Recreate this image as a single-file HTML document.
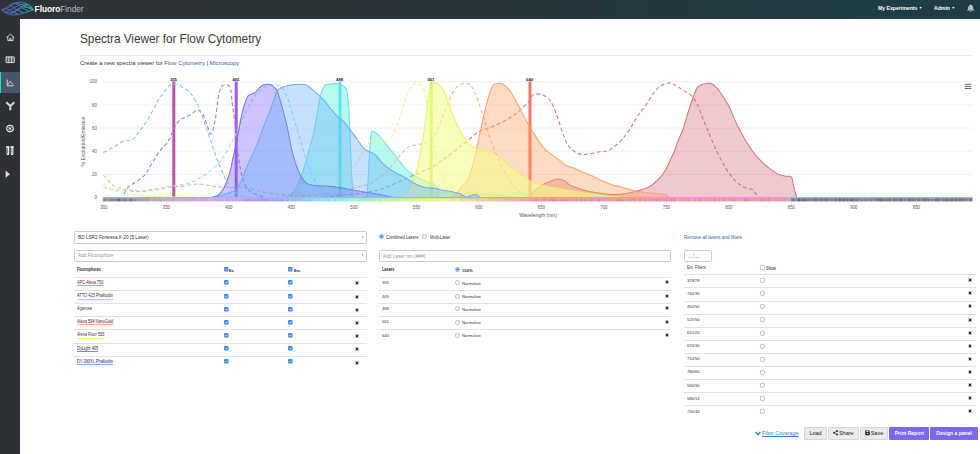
<!DOCTYPE html>
<html><head><meta charset="utf-8"><title>Spectra Viewer</title>
<style>
*{box-sizing:border-box;margin:0;padding:0}
html,body{width:980px;height:454px;overflow:hidden;background:#fff;font-family:"Liberation Sans",sans-serif;color:#333}
.abs{position:absolute}
svg{overflow:visible}
#hdr{position:absolute;left:0;top:0;width:980px;height:18.6px;background:linear-gradient(90deg,#2e3236 0%,#2c3438 35%,#23393f 70%,#1f3d46 100%)}
#side{position:absolute;left:0;top:18.6px;width:19.6px;height:436px;background:#2d3136}
#act{position:absolute;left:0;top:72px;width:19.6px;height:21px;background:#4a566b;border-left:1.8px solid #0fe6c6}
.t{position:absolute;white-space:nowrap;line-height:1}
.nav{color:#fff;font-size:5.2px;font-weight:bold;top:5.6px}
h1{position:absolute;left:79.6px;top:31.6px;font-size:13.1px;font-weight:normal;color:#3a3a3a;white-space:nowrap;line-height:1;letter-spacing:-0.05px}
#hr1{position:absolute;left:80px;top:55px;width:893px;height:0.7px;background:#ececec}
.sub{left:80px;top:61.1px;font-size:5.6px;letter-spacing:0.01px;color:#333}
.lnk{color:#2c5fa5}
.tx{font-size:4.5px;color:#333}
.hd{font-size:4.4px;color:#222;font-weight:bold}
.ln{position:absolute;height:0.6px;background:#e2e2e2}
.box{position:absolute;border:0.6px solid #cdcdcd;border-radius:1.2px;background:#fff}
.cb{position:absolute;width:4.4px;height:4.4px;border-radius:0.8px;background:#2f7df0}
.cb:after{content:"";position:absolute;left:1.45px;top:0.55px;width:1.2px;height:2.3px;border:solid #fff;border-width:0 0.7px 0.7px 0;transform:rotate(42deg)}
.ce{position:absolute;width:4.3px;height:4.3px;border-radius:0.7px;border:0.6px solid #777;background:#fff}
.rd{position:absolute;width:4.6px;height:4.6px;border-radius:50%;border:0.6px solid #777;background:#fff}
.rdc{position:absolute;width:4.6px;height:4.6px;border-radius:50%;border:0.7px solid #2f7df0;background:#fff}
.rdc:after{content:"";position:absolute;left:0.75px;top:0.75px;width:1.7px;height:1.7px;border-radius:50%;background:#2f7df0}
.x{position:absolute;font-size:5.2px;font-weight:bold;color:#222;line-height:1}
.btn{position:absolute;top:426.8px;height:13.4px;border-radius:1px;font-size:5.5px;line-height:11.8px;text-align:center;white-space:nowrap}
.bg{background:#ebebeb;border:0.6px solid #d6d6d6;color:#222}
.bp{background:#7b68ee;color:#fff;font-weight:bold;font-size:5.05px;line-height:12.6px}
.u{text-decoration:none;border-bottom:0.5px solid;display:inline-block;line-height:0.98}
</style></head><body>
<div id="hdr"></div>
<div id="side"></div>
<div id="act"></div>

<!-- logo -->
<svg class="abs" style="left:0;top:0" width="100" height="19" viewBox="0 0 100 19">
<defs><linearGradient id="lg" x1="0" x2="1" y1="0" y2="0"><stop offset="0" stop-color="#7460e6"/><stop offset="0.5" stop-color="#3f90d4"/><stop offset="0.8" stop-color="#25b8c8"/><stop offset="1" stop-color="#10dcc0"/></linearGradient></defs>
<g fill="none" stroke="url(#lg)" stroke-width="0.8" stroke-linecap="round" opacity="0.95">
<path d="M1.8 10C6 9.2 9 3.6 15 3.1S25 7.6 33 9.8"/>
<path d="M1.8 10C8 10.2 13 2 20 2S29 6 33 9.8"/>
<path d="M4.5 12C10 11.5 17 4.2 24 4.200S31.5 7 33 9.8"/>
<path d="M1.8 10C4 12.5 7 13.200 10.5 12.600S22 5 27 5.200"/>
<path d="M5.500 12.700C9 15 13 15.300 16.500 14.800S27 12.500 33 9.800"/>
<path d="M10.800 13.800C14 13.500 20 7.500 25.500 7.300S31 8.500 33 9.800"/>
<path d="M7.500 8.800C10 10.500 13.500 12.500 17 13.800"/>
<path d="M11 6C14 8 18.500 11 23 12.700"/>
<path d="M16 3.500C19 5.500 24 9 28.500 11.300"/>
</g>
<text x="34.600" y="12.100" font-family="Liberation Sans" font-size="8.35" font-weight="bold" fill="#ffffff" letter-spacing="-0.05">Fluoro<tspan font-weight="normal" fill="#b9bcbf">Finder</tspan></text>
</svg>

<div class="t nav" style="transform-origin:0 50%;transform:scaleX(0.989);left:877.8px">My Experiments <span style="font-size:3.6px;position:relative;top:-0.6px">&#9660;</span></div>
<div class="t nav" style="transform-origin:0 50%;transform:scaleX(0.988);left:933.8px">Admin <span style="font-size:3.6px;position:relative;top:-0.6px">&#9660;</span></div>
<svg class="abs" style="left:966.6px;top:3.8px" width="7.400" height="8" viewBox="0 0 14 15"><path d="M7 0.500c.7 0 1.200.5 1.200 1.100 2.200.6 3.500 2.500 3.500 4.900 0 2.600.7 3.800 1.800 4.700v.9H.5v-.9c1.100-.9 1.800-2.100 1.800-4.700 0-2.400 1.300-4.300 3.500-4.900C5.800 1 6.300.5 7 .5zM5.300 13h3.400c0 .9-.8 1.600-1.700 1.600S5.300 13.900 5.300 13z" fill="#b8bdc0"/></svg>

<!-- sidebar icons -->
<svg class="abs" style="left:0;top:18px" width="20" height="170" viewBox="0 18 20 170">
<g fill="none" stroke="#f2f3f5" stroke-width="0.8" stroke-linejoin="round" stroke-linecap="round">
<path d="M6.800 37.400L10.400 34.200l3.600 3.200M7.800 36.900v3.700h5.200v-3.700M9.700 40.500v-1.800h1.400v1.800"/>
<rect x="6" y="56.900" width="8.300" height="5.700" rx="0.400" fill="rgba(255,255,255,0.25)"/><path d="M8.800 56.900v5.700M11.500 56.900v5.700" stroke-width="0.700"/>
<path d="M7.200 79.900v5.900h5.900" stroke-width="0.850"/><path d="M8.300 84.600c0.700-0.300 0.900-3.300 1.700-3.300s0.800 1.500 1.400 1.500 0.700 1.200 1.500 1.600" stroke-width="0.700"/>
</g>
<path d="M6.300 102.200L10.300 106l4-3.800M10.300 106v4.300" fill="none" stroke="#d3d7dd" stroke-width="2" stroke-linecap="butt" stroke-linejoin="miter"/>
<g fill="none" stroke="#f4f5f6"><circle cx="10" cy="128.5" r="3.3" stroke-width="1.05"/><circle cx="10" cy="128.5" r="0.8" fill="#f4f5f6" stroke="none"/><path d="M10 125.500v6M7.400 127l5.200 3M12.600 127l-5.200 3" stroke-width="0.55"/></g>
<g fill="#fff"><path d="M6.200 146.300h3.400v0.900h-.4v6.600c0 1.700-2.600 1.700-2.600 0v-6.600h-.4zM7.400 148v5.600c0 .5.700.5.700 0V148z" fill-rule="evenodd"/><path d="M10.400 146.300h3.400v0.900h-.4v6.600c0 1.700-2.600 1.700-2.600 0v-6.600h-.4zM11.600 148v5.600c0 .5.700.5.700 0V148z" fill-rule="evenodd"/></g>
<path d="M5.600 170.600l4.400 3.600-4.400 3.600z" fill="#e6d9cc"/>
</svg>

<h1 style="transform-origin:0 50%;transform:scaleX(0.904);top:31.6px">Spectra Viewer for Flow Cytometry</h1>
<div id="hr1"></div>
<div class="t sub" style="transform-origin:0 50%;transform:scaleX(1.042);top:61.1px">Create a new spectra viewer for <span class="lnk">Flow Cytometry</span> | <span class="lnk">Microscopy</span></div>

<!-- CHART -->
<svg class="abs" style="left:0;top:0" width="980" height="454" viewBox="0 0 980 454" font-family="Liberation Sans, sans-serif">
<line x1="102.4" x2="972.4" y1="81.7" y2="81.7" stroke="#e9e9e9" stroke-width="0.65"/>
<line x1="102.4" x2="972.4" y1="104.9" y2="104.9" stroke="#e9e9e9" stroke-width="0.65"/>
<line x1="102.4" x2="972.4" y1="128.1" y2="128.1" stroke="#e9e9e9" stroke-width="0.65"/>
<line x1="102.4" x2="972.4" y1="151.2" y2="151.2" stroke="#e9e9e9" stroke-width="0.65"/>
<line x1="102.4" x2="972.4" y1="174.5" y2="174.5" stroke="#e9e9e9" stroke-width="0.65"/>
<line x1="173.8" x2="173.8" y1="81.5" y2="198.0" stroke="#bd52ad" stroke-width="3.0"/>
<line x1="236.2" x2="236.2" y1="81.5" y2="198.0" stroke="#aa55ea" stroke-width="3.0"/>
<line x1="340.0" x2="340.0" y1="81.5" y2="198.0" stroke="#62e7f6" stroke-width="3.0"/>
<line x1="431.2" x2="431.2" y1="81.5" y2="198.0" stroke="#d0f352" stroke-width="3.0"/>
<line x1="530.0" x2="530.0" y1="81.5" y2="198.0" stroke="#fb7565" stroke-width="3.0"/>
<path d="M323.4 197.7 C324.8 197.4 327.9 196.9 330.9 196.5 C333.9 196.1 335.5 195.8 340.0 195.3 C344.6 194.8 351.3 194.3 356.3 193.7 C361.3 193.1 363.7 192.8 367.8 192.1 C371.9 191.4 375.3 190.7 379.1 189.6 C383.0 188.6 384.3 188.2 389.0 186.3 C393.7 184.4 399.4 181.6 405.3 179.0 C411.1 176.3 416.9 173.7 421.6 171.7 C426.4 169.6 427.9 169.5 431.4 167.6 C434.9 165.7 437.2 163.9 441.3 161.0 C445.4 158.0 449.9 154.6 454.3 151.2 C458.7 147.9 461.4 145.7 465.8 142.2 C470.2 138.7 474.7 134.2 478.8 131.6 C482.8 129.1 484.2 129.7 488.4 128.1 C492.6 126.4 497.6 124.5 502.1 122.2 C506.6 120.0 509.8 117.8 513.4 115.3 C517.0 112.8 519.4 110.8 522.1 108.3 C524.9 105.9 526.8 103.9 528.5 101.7 C530.3 99.5 530.6 97.4 531.8 96.0 C533.0 94.7 533.4 94.5 535.1 94.3 C536.9 94.1 539.3 94.0 541.6 94.8 C544.0 95.5 546.1 96.4 548.1 98.4 C550.2 100.3 551.2 102.1 553.0 105.8 C554.8 109.5 556.2 113.8 558.0 118.8 C559.8 123.8 561.1 128.8 562.9 133.5 C564.7 138.2 566.0 141.9 567.8 144.9 C569.5 147.8 571.1 148.4 572.6 149.9 C574.2 151.3 574.7 152.0 576.5 152.9 C578.3 153.7 580.2 154.4 582.8 154.5 C585.4 154.6 587.9 154.1 590.9 153.6 C593.9 153.1 596.7 152.3 599.6 151.8 C602.6 151.3 605.1 151.4 607.1 150.9 C609.2 150.4 608.6 150.9 611.0 149.0 C613.5 147.2 617.5 144.2 620.8 140.8 C624.0 137.4 626.1 134.5 629.0 130.3 C632.0 126.0 634.2 121.6 637.1 117.1 C640.1 112.7 642.0 110.5 645.3 105.8 C648.5 101.1 652.2 94.7 655.1 91.0 C658.1 87.4 659.5 86.7 661.6 85.4 C663.8 84.0 665.5 83.8 667.1 83.4 C668.8 83.0 669.3 82.7 670.6 82.9 C672.0 83.2 673.3 84.2 674.6 84.9 C676.0 85.6 676.7 85.8 678.4 86.9 C680.1 88.0 682.0 89.4 684.3 90.9 C686.6 92.5 689.0 93.3 691.3 95.6 C693.5 97.9 694.6 99.1 696.9 103.7 C699.2 108.3 701.4 114.9 703.9 121.1 C706.4 127.2 708.1 131.4 710.9 137.9 C713.7 144.4 716.5 150.9 719.6 157.1 C722.8 163.2 725.3 167.6 728.4 172.1 C731.5 176.6 733.6 179.2 736.6 182.0 C739.7 184.8 742.4 186.3 745.1 187.7 C747.9 189.0 750.4 188.7 752.1 189.5 C753.9 190.4 753.6 191.1 754.9 192.5 C756.2 194.0 758.4 196.7 759.1 197.7" fill="none" stroke="#db8188" stroke-width="1.15" stroke-dasharray="3.9 2.5" stroke-linejoin="round"/>
<path d="M529.0 197.7 C530.3 196.2 533.1 192.0 535.9 189.5 C538.7 187.0 541.5 185.4 544.6 183.7 C547.8 182.1 550.9 181.1 553.4 180.2 C555.9 179.4 556.4 179.0 558.4 179.1 C560.4 179.2 562.3 179.6 564.3 180.6 C566.3 181.6 567.1 183.5 569.6 184.9 C572.2 186.3 574.8 187.2 578.4 188.4 C582.0 189.5 585.8 190.5 589.6 191.4 C593.5 192.2 595.5 192.6 599.6 193.1 C603.8 193.7 607.4 194.6 612.6 194.5 C617.9 194.5 623.7 193.8 629.0 192.9 C634.3 192.0 638.5 190.7 642.0 189.6 C645.5 188.6 646.3 188.3 648.4 187.2 C650.5 186.2 651.1 185.9 653.5 183.8 C655.9 181.8 659.4 178.4 661.6 175.7 C663.9 173.1 664.4 171.9 665.9 169.2 C667.4 166.6 668.2 164.2 669.8 161.0 C671.3 157.8 672.8 155.1 674.4 151.2 C676.0 147.4 677.0 143.6 678.5 139.8 C680.0 135.9 680.9 134.9 682.6 130.0 C684.4 125.1 686.2 118.4 688.1 112.4 C690.1 106.4 691.8 101.1 693.4 96.7 C695.0 92.3 695.8 90.0 697.1 87.9 C698.5 85.8 699.4 85.7 701.1 84.9 C702.9 84.1 705.0 83.8 706.8 83.5 C708.5 83.2 709.4 82.9 710.9 83.4 C712.4 83.9 713.6 84.8 715.1 86.3 C716.7 87.8 717.3 88.1 719.6 91.5 C722.0 94.9 725.3 99.4 728.4 105.2 C731.5 111.0 733.6 117.6 736.6 123.8 C739.7 130.0 742.1 134.5 745.1 139.7 C748.2 144.8 750.3 148.4 753.4 152.4 C756.5 156.5 759.1 159.1 762.1 162.2 C765.2 165.2 767.4 167.0 770.4 169.2 C773.4 171.4 776.0 173.2 778.9 174.5 C781.8 175.7 784.3 175.8 786.5 176.3 C788.8 176.8 790.2 175.5 791.5 177.2 C792.8 179.0 792.7 182.4 793.6 186.1 C794.6 189.7 796.2 195.6 796.8 197.7 Z" fill="rgba(205,92,98,0.33)" stroke="none"/>
<path d="M103.4 197.7 L529.0 197.7 C530.3 196.2 533.1 192.0 535.9 189.5 C538.7 187.0 541.5 185.4 544.6 183.7 C547.8 182.1 550.9 181.1 553.4 180.2 C555.9 179.4 556.4 179.0 558.4 179.1 C560.4 179.2 562.3 179.6 564.3 180.6 C566.3 181.6 567.1 183.5 569.6 184.9 C572.2 186.3 574.8 187.2 578.4 188.4 C582.0 189.5 585.8 190.5 589.6 191.4 C593.5 192.2 595.5 192.6 599.6 193.1 C603.8 193.7 607.4 194.6 612.6 194.5 C617.9 194.5 623.7 193.8 629.0 192.9 C634.3 192.0 638.5 190.7 642.0 189.6 C645.5 188.6 646.3 188.3 648.4 187.2 C650.5 186.2 651.1 185.9 653.5 183.8 C655.9 181.8 659.4 178.4 661.6 175.7 C663.9 173.1 664.4 171.9 665.9 169.2 C667.4 166.6 668.2 164.2 669.8 161.0 C671.3 157.8 672.8 155.1 674.4 151.2 C676.0 147.4 677.0 143.6 678.5 139.8 C680.0 135.9 680.9 134.9 682.6 130.0 C684.4 125.1 686.2 118.4 688.1 112.4 C690.1 106.4 691.8 101.1 693.4 96.7 C695.0 92.3 695.8 90.0 697.1 87.9 C698.5 85.8 699.4 85.7 701.1 84.9 C702.9 84.1 705.0 83.8 706.8 83.5 C708.5 83.2 709.4 82.9 710.9 83.4 C712.4 83.9 713.6 84.8 715.1 86.3 C716.7 87.8 717.3 88.1 719.6 91.5 C722.0 94.9 725.3 99.4 728.4 105.2 C731.5 111.0 733.6 117.6 736.6 123.8 C739.7 130.0 742.1 134.5 745.1 139.7 C748.2 144.8 750.3 148.4 753.4 152.4 C756.5 156.5 759.1 159.1 762.1 162.2 C765.2 165.2 767.4 167.0 770.4 169.2 C773.4 171.4 776.0 173.2 778.9 174.5 C781.8 175.7 784.3 175.8 786.5 176.3 C788.8 176.8 790.2 175.5 791.5 177.2 C792.8 179.0 792.7 182.4 793.6 186.1 C794.6 189.7 796.2 195.6 796.8 197.7 L972.4 197.7" fill="none" stroke="#d8757b" stroke-width="1.05" stroke-linejoin="round"/>
<path d="M103.4 187.2 C105.3 187.6 109.7 189.0 114.2 189.5 C118.7 190.0 123.4 189.8 128.4 190.0 C133.4 190.2 137.1 190.9 142.2 190.7 C147.2 190.4 151.3 189.4 156.4 188.6 C161.5 187.8 165.3 187.1 170.4 186.3 C175.5 185.5 180.1 185.4 184.7 184.3 C189.2 183.2 191.8 182.2 195.9 180.2 C200.0 178.3 203.6 175.8 207.2 173.3 C210.7 170.8 213.0 168.6 215.5 166.3 C218.0 164.0 218.8 163.3 220.9 160.5 C223.0 157.7 224.2 156.0 227.2 150.7 C230.1 145.3 234.6 136.7 237.4 130.9 C240.2 125.2 241.0 122.9 242.9 118.8 C244.8 114.6 246.1 111.5 248.0 107.8 C249.9 104.0 251.4 101.0 253.5 97.9 C255.6 94.8 257.2 92.8 259.6 90.7 C262.1 88.6 264.3 87.3 267.1 86.3 C270.0 85.2 273.3 84.9 275.5 84.9 C277.8 84.9 277.9 84.9 279.6 86.3 C281.4 87.7 283.4 89.2 285.3 92.7 C287.2 96.2 288.1 99.3 290.1 105.8 C292.2 112.3 294.4 120.7 296.8 128.6 C299.1 136.6 301.4 143.7 303.3 149.9 C305.1 156.0 305.7 158.6 307.1 162.9 C308.6 167.1 309.7 169.4 311.5 173.3 C313.3 177.2 314.9 181.0 317.1 184.3 C319.4 187.7 321.5 189.8 324.3 191.8 C327.1 193.9 329.7 194.6 332.6 195.7 C335.6 196.7 339.4 197.3 340.9 197.7" fill="none" stroke="#93e6f0" stroke-width="1.15" stroke-dasharray="3.9 2.5" stroke-linejoin="round"/>
<path d="M283.4 197.7 C284.5 197.2 287.4 197.0 289.6 195.3 C291.9 193.7 293.4 193.0 295.9 188.4 C298.4 183.8 301.0 176.7 303.4 169.8 C305.8 162.9 307.1 156.7 309.0 149.9 C310.9 143.0 312.3 139.2 313.9 131.9 C315.5 124.5 316.7 116.1 318.0 109.0 C319.4 102.0 320.1 96.8 321.3 92.7 C322.4 88.6 323.4 87.7 324.5 86.2 C325.7 84.6 325.0 84.6 327.8 84.2 C330.6 83.8 336.8 83.4 340.0 84.2 C343.3 85.0 344.3 85.9 345.8 88.6 C347.2 91.3 347.4 92.4 348.1 99.3 C348.9 106.2 349.3 117.9 349.8 127.0 C350.2 136.1 350.3 141.3 350.6 149.9 C351.0 158.4 351.2 166.9 351.7 174.5 C352.1 182.0 352.5 187.7 352.9 191.8 C353.3 196.0 353.6 196.6 353.8 197.7 Z" fill="rgba(72,240,222,0.385)" stroke="none"/>
<path d="M367.1 197.7 C367.5 191.4 368.3 174.1 369.0 162.9 C369.7 151.6 370.3 140.6 371.0 135.0 C371.8 129.4 371.8 131.3 373.3 131.5 C374.8 131.7 376.8 133.5 379.4 136.2 C382.0 138.9 384.8 142.9 387.9 146.6 C391.0 150.4 393.4 153.3 396.4 157.1 C399.4 160.8 401.6 164.3 404.6 167.5 C407.7 170.7 410.3 172.9 413.4 175.0 C416.5 177.2 418.8 178.1 421.8 179.6 C424.8 181.0 427.9 182.1 430.1 182.9 C432.4 183.8 433.1 183.3 434.4 184.3 C435.7 185.3 436.3 186.0 437.1 188.4 C438.0 190.8 438.8 196.0 439.1 197.7 Z" fill="rgba(72,240,222,0.385)" stroke="none"/>
<path d="M103.4 197.7 L283.4 197.7 C284.5 197.2 287.4 197.0 289.6 195.3 C291.9 193.7 293.4 193.0 295.9 188.4 C298.4 183.8 301.0 176.7 303.4 169.8 C305.8 162.9 307.1 156.7 309.0 149.9 C310.9 143.0 312.3 139.2 313.9 131.9 C315.5 124.5 316.7 116.1 318.0 109.0 C319.4 102.0 320.1 96.8 321.3 92.7 C322.4 88.6 323.4 87.7 324.5 86.2 C325.7 84.6 325.0 84.6 327.8 84.2 C330.6 83.8 336.8 83.4 340.0 84.2 C343.3 85.0 344.3 85.9 345.8 88.6 C347.2 91.3 347.4 92.4 348.1 99.3 C348.9 106.2 349.3 117.9 349.8 127.0 C350.2 136.1 350.3 141.3 350.6 149.9 C351.0 158.4 351.2 166.9 351.7 174.5 C352.1 182.0 352.5 187.7 352.9 191.8 C353.3 196.0 353.6 196.6 353.8 197.7 L367.1 197.7 C367.5 191.4 368.3 174.1 369.0 162.9 C369.7 151.6 370.3 140.6 371.0 135.0 C371.8 129.4 371.8 131.3 373.3 131.5 C374.8 131.7 376.8 133.5 379.4 136.2 C382.0 138.9 384.8 142.9 387.9 146.6 C391.0 150.4 393.4 153.3 396.4 157.1 C399.4 160.8 401.6 164.3 404.6 167.5 C407.7 170.7 410.3 172.9 413.4 175.0 C416.5 177.2 418.8 178.1 421.8 179.6 C424.8 181.0 427.9 182.1 430.1 182.9 C432.4 183.8 433.1 183.3 434.4 184.3 C435.7 185.3 436.3 186.0 437.1 188.4 C438.0 190.8 438.8 196.0 439.1 197.7 L972.4 197.7" fill="none" stroke="#72e0ec" stroke-width="1.05" stroke-linejoin="round"/>
<path d="M457.1 197.7 C458.3 197.1 461.1 195.7 463.4 194.8 C465.6 193.8 466.9 192.7 469.6 192.4 C472.3 192.1 475.0 192.7 478.4 193.0 C481.8 193.3 484.3 193.7 488.4 194.2 C492.4 194.6 496.4 195.1 500.9 195.6 C505.4 196.1 509.8 196.6 513.4 197.0 C517.0 197.3 519.5 197.5 520.9 197.7 Z" fill="rgba(170,240,150,0.40)" stroke="none"/>
<path d="M103.4 197.7 L457.1 197.7 C458.3 197.1 461.1 195.7 463.4 194.8 C465.6 193.8 466.9 192.7 469.6 192.4 C472.3 192.1 475.0 192.7 478.4 193.0 C481.8 193.3 484.3 193.7 488.4 194.2 C492.4 194.6 496.4 195.1 500.9 195.6 C505.4 196.1 509.8 196.6 513.4 197.0 C517.0 197.3 519.5 197.5 520.9 197.7 L972.4 197.7" fill="none" stroke="#b6f0a0" stroke-width="1.05" stroke-linejoin="round"/>
<path d="M103.4 175.0 C104.3 176.1 106.5 178.7 108.4 180.7 C110.3 182.7 111.7 184.6 114.2 186.1 C116.6 187.5 118.7 187.6 122.2 188.6 C125.6 189.6 129.3 190.9 133.4 191.4 C137.5 191.9 140.6 191.6 144.7 191.4 C148.7 191.1 151.8 190.6 155.9 190.0 C160.0 189.4 164.0 188.6 167.2 188.0 C170.3 187.4 170.2 187.0 173.4 186.6 C176.6 186.3 181.1 186.5 184.7 186.1 C188.2 185.6 190.0 184.6 192.9 184.3 C195.8 184.0 197.4 184.0 200.9 184.3 C204.4 184.6 208.1 185.5 212.2 186.1 C216.2 186.6 218.5 187.0 223.4 187.2 C228.3 187.4 234.2 186.8 239.7 187.2 C245.1 187.6 248.2 188.5 253.4 189.5 C258.6 190.6 262.8 192.1 268.4 193.0 C274.0 193.9 278.3 194.3 284.6 194.8 C290.9 195.2 297.8 195.5 303.4 195.6 C309.0 195.7 311.4 195.5 315.9 195.3 C320.4 195.1 324.1 194.8 328.4 194.4 C332.7 194.0 335.6 194.0 340.0 192.9 C344.5 191.7 348.6 189.4 353.0 188.0 C357.4 186.7 361.0 186.5 364.5 185.5 C368.1 184.4 369.4 184.0 372.6 182.2 C375.9 180.5 379.5 178.1 382.4 175.7 C385.3 173.4 386.7 171.9 389.0 169.2 C391.4 166.6 393.2 163.9 395.5 161.0 C397.9 158.0 399.7 155.4 402.0 152.9 C404.4 150.4 405.9 148.5 408.5 147.1 C411.2 145.6 413.8 145.5 416.8 144.8 C419.7 144.0 422.3 144.0 424.9 143.1 C427.5 142.2 429.4 141.8 431.4 139.8 C433.4 137.7 434.6 135.0 436.3 131.6 C438.0 128.3 438.8 126.1 440.9 121.1 C443.0 116.1 445.3 109.3 447.8 103.7 C450.2 98.1 452.2 93.4 454.6 89.8 C457.1 86.2 459.0 84.8 461.5 83.7 C464.1 82.7 466.9 83.1 468.8 83.7 C470.7 84.4 470.5 84.4 472.1 87.2 C473.8 90.1 475.8 94.0 477.8 99.5 C479.8 105.0 481.4 111.2 483.4 117.6 C485.4 124.0 487.0 129.1 489.0 135.0 C491.0 140.9 492.6 145.4 494.6 150.4 C496.7 155.4 498.0 158.0 500.3 162.9 C502.6 167.7 504.9 172.8 507.4 177.2 C509.9 181.6 511.5 184.4 514.3 187.2 C517.0 190.0 520.1 191.1 522.8 193.0 C525.4 194.9 527.9 196.8 529.0 197.7" fill="none" stroke="#fcb68e" stroke-width="1.15" stroke-dasharray="3.9 2.5" stroke-linejoin="round"/>
<path d="M450.9 197.7 C451.8 197.0 454.1 196.0 455.9 194.2 C457.7 192.3 458.8 189.7 460.9 187.2 C463.0 184.7 465.3 184.6 467.5 180.2 C469.8 175.9 471.2 170.6 473.3 162.9 C475.3 155.1 477.0 146.5 479.0 137.3 C481.1 128.1 482.7 119.9 484.6 111.8 C486.6 103.7 488.3 97.3 489.9 92.4 C491.5 87.6 492.1 86.5 493.5 84.9 C494.9 83.3 496.1 83.5 497.8 83.4 C499.4 83.3 500.7 83.1 502.8 84.2 C504.8 85.4 506.8 86.7 509.3 89.8 C511.7 92.9 513.9 96.8 516.4 101.4 C518.9 106.0 520.9 110.5 523.4 115.3 C525.9 120.1 527.9 123.8 530.4 128.1 C532.9 132.3 535.0 135.3 537.5 139.1 C540.1 142.8 541.7 145.9 544.6 148.9 C547.6 152.0 550.7 153.9 553.7 156.1 C556.6 158.3 558.7 159.6 560.9 161.2 C563.1 162.9 563.7 164.1 565.9 165.3 C568.1 166.5 570.3 166.7 573.0 167.8 C575.8 168.9 578.0 170.1 581.3 171.4 C584.6 172.8 587.7 173.8 591.4 175.5 C595.1 177.1 598.0 178.9 601.6 180.6 C605.3 182.2 608.6 183.6 611.9 184.7 C615.2 185.8 617.1 186.0 620.0 186.7 C623.0 187.5 625.1 188.2 628.4 189.1 C631.7 189.9 634.4 190.9 638.4 191.6 C642.4 192.3 645.7 192.7 650.4 193.1 C655.1 193.6 661.3 193.4 664.6 194.2 C668.0 195.0 668.2 197.0 669.0 197.7 Z" fill="rgba(255,160,100,0.38)" stroke="none"/>
<path d="M103.4 197.7 L450.9 197.7 C451.8 197.0 454.1 196.0 455.9 194.2 C457.7 192.3 458.8 189.7 460.9 187.2 C463.0 184.7 465.3 184.6 467.5 180.2 C469.8 175.9 471.2 170.6 473.3 162.9 C475.3 155.1 477.0 146.5 479.0 137.3 C481.1 128.1 482.7 119.9 484.6 111.8 C486.6 103.7 488.3 97.3 489.9 92.4 C491.5 87.6 492.1 86.5 493.5 84.9 C494.9 83.3 496.1 83.5 497.8 83.4 C499.4 83.3 500.7 83.1 502.8 84.2 C504.8 85.4 506.8 86.7 509.3 89.8 C511.7 92.9 513.9 96.8 516.4 101.4 C518.9 106.0 520.9 110.5 523.4 115.3 C525.9 120.1 527.9 123.8 530.4 128.1 C532.9 132.3 535.0 135.3 537.5 139.1 C540.1 142.8 541.7 145.9 544.6 148.9 C547.6 152.0 550.7 153.9 553.7 156.1 C556.6 158.3 558.7 159.6 560.9 161.2 C563.1 162.9 563.7 164.1 565.9 165.3 C568.1 166.5 570.3 166.7 573.0 167.8 C575.8 168.9 578.0 170.1 581.3 171.4 C584.6 172.8 587.7 173.8 591.4 175.5 C595.1 177.1 598.0 178.9 601.6 180.6 C605.3 182.2 608.6 183.6 611.9 184.7 C615.2 185.8 617.1 186.0 620.0 186.7 C623.0 187.5 625.1 188.2 628.4 189.1 C631.7 189.9 634.4 190.9 638.4 191.6 C642.4 192.3 645.7 192.7 650.4 193.1 C655.1 193.6 661.3 193.4 664.6 194.2 C668.0 195.0 668.2 197.0 669.0 197.7 L972.4 197.7" fill="none" stroke="#fba26e" stroke-width="1.05" stroke-linejoin="round"/>
<path d="M103.4 184.3 C104.3 184.8 106.0 185.9 108.4 187.2 C110.8 188.5 113.3 190.1 116.9 191.4 C120.5 192.6 123.9 193.4 128.4 194.2 C132.9 194.9 137.2 195.2 142.2 195.7 C147.1 196.1 149.4 196.4 155.9 196.6 C162.4 196.9 165.3 196.9 178.4 197.1 C191.5 197.2 210.4 197.3 228.4 197.3 C246.4 197.3 266.7 197.3 278.4 197.1 C290.1 196.9 288.4 196.8 293.4 196.3 C298.3 195.7 301.4 195.2 305.9 194.2 C310.4 193.2 314.3 192.0 318.4 190.7 C322.4 189.3 324.6 188.5 328.4 186.6 C332.2 184.8 335.6 183.5 339.6 180.2 C343.7 177.0 347.3 172.6 350.9 168.7 C354.5 164.7 356.5 162.6 359.6 158.2 C362.8 153.8 365.1 147.7 368.1 144.3 C371.2 140.8 373.2 139.7 376.5 139.1 C379.8 138.4 383.4 141.7 386.4 140.8 C389.4 139.9 390.9 138.2 393.4 133.9 C395.9 129.5 398.0 123.7 400.5 116.5 C403.1 109.2 405.2 99.6 407.5 93.8 C409.9 88.0 411.6 86.0 413.7 84.2 C415.7 82.4 416.9 82.5 418.8 83.6 C420.6 84.7 422.4 86.7 423.9 90.4 C425.4 94.0 425.8 96.7 427.1 103.7 C428.5 110.7 430.0 120.0 431.5 129.2 C433.1 138.4 433.9 146.6 435.6 154.7 C437.4 162.9 439.2 168.4 441.3 174.5 C443.3 180.5 444.9 184.8 446.9 188.4 C448.9 191.9 450.5 192.5 452.5 194.2 C454.6 195.8 457.3 197.0 458.4 197.7" fill="none" stroke="#edf58a" stroke-width="1.15" stroke-dasharray="3.9 2.5" stroke-linejoin="round"/>
<path d="M395.3 197.7 C396.3 197.3 399.0 196.6 400.9 195.9 C402.8 195.2 403.8 195.6 405.6 193.7 C407.4 191.8 409.0 189.3 410.9 185.5 C412.8 181.6 414.3 178.8 416.2 172.4 C418.0 165.9 419.6 157.2 421.0 149.6 C422.5 142.0 423.3 136.8 424.3 130.0 C425.2 123.2 425.5 118.8 426.4 111.8 C427.3 104.8 428.2 96.0 429.3 90.9 C430.4 85.9 431.1 85.1 432.5 83.7 C433.9 82.4 435.6 82.8 437.1 83.4 C438.7 84.0 439.5 84.5 441.3 87.1 C443.0 89.7 444.9 93.0 446.9 97.9 C448.9 102.8 450.5 108.7 452.5 114.1 C454.6 119.6 456.4 123.9 458.4 128.1 C460.4 132.2 461.9 134.4 463.9 137.3 C465.9 140.3 467.6 142.3 469.6 144.3 C471.7 146.3 473.3 147.3 475.1 148.4 C477.0 149.4 478.2 149.7 480.0 150.1 C481.8 150.5 482.8 149.8 485.3 150.4 C487.8 151.1 490.7 152.0 493.8 153.6 C496.8 155.2 499.1 157.1 502.1 159.4 C505.2 161.7 507.6 163.8 510.6 166.3 C513.7 168.8 515.5 170.6 519.0 173.3 C522.5 175.9 525.4 178.8 530.1 181.1 C534.9 183.3 540.4 184.4 545.5 185.7 C550.6 187.0 553.8 187.5 558.4 188.4 C563.0 189.3 567.0 190.1 571.0 190.8 C575.1 191.5 577.2 191.9 580.9 192.4 C584.6 193.0 587.7 193.4 591.4 193.9 C595.1 194.5 598.1 195.0 601.6 195.4 C605.2 195.9 607.2 196.0 610.9 196.3 C614.6 196.5 618.3 196.7 622.1 197.0 C626.0 197.2 630.4 197.5 632.1 197.7 Z" fill="rgba(243,251,142,0.6)" stroke="none"/>
<path d="M103.4 197.7 L395.3 197.7 C396.3 197.3 399.0 196.6 400.9 195.9 C402.8 195.2 403.8 195.6 405.6 193.7 C407.4 191.8 409.0 189.3 410.9 185.5 C412.8 181.6 414.3 178.8 416.2 172.4 C418.0 165.9 419.6 157.2 421.0 149.6 C422.5 142.0 423.3 136.8 424.3 130.0 C425.2 123.2 425.5 118.8 426.4 111.8 C427.3 104.8 428.2 96.0 429.3 90.9 C430.4 85.9 431.1 85.1 432.5 83.7 C433.9 82.4 435.6 82.8 437.1 83.4 C438.7 84.0 439.5 84.5 441.3 87.1 C443.0 89.7 444.9 93.0 446.9 97.9 C448.9 102.8 450.5 108.7 452.5 114.1 C454.6 119.6 456.4 123.9 458.4 128.1 C460.4 132.2 461.9 134.4 463.9 137.3 C465.9 140.3 467.6 142.3 469.6 144.3 C471.7 146.3 473.3 147.3 475.1 148.4 C477.0 149.4 478.2 149.7 480.0 150.1 C481.8 150.5 482.8 149.8 485.3 150.4 C487.8 151.1 490.7 152.0 493.8 153.6 C496.8 155.2 499.1 157.1 502.1 159.4 C505.2 161.7 507.6 163.8 510.6 166.3 C513.7 168.8 515.5 170.6 519.0 173.3 C522.5 175.9 525.4 178.8 530.1 181.1 C534.9 183.3 540.4 184.4 545.5 185.7 C550.6 187.0 553.8 187.5 558.4 188.4 C563.0 189.3 567.0 190.1 571.0 190.8 C575.1 191.5 577.2 191.9 580.9 192.4 C584.6 193.0 587.7 193.4 591.4 193.9 C595.1 194.5 598.1 195.0 601.6 195.4 C605.2 195.9 607.2 196.0 610.9 196.3 C614.6 196.5 618.3 196.7 622.1 197.0 C626.0 197.2 630.4 197.5 632.1 197.7 L972.4 197.7" fill="none" stroke="#e7f264" stroke-width="1.05" stroke-linejoin="round"/>
<path d="M123.9 194.2 C124.7 192.9 125.9 189.5 128.2 187.2 C130.4 184.9 133.6 183.7 136.7 181.4 C139.7 179.1 142.4 177.8 145.1 174.5 C147.9 171.1 149.6 166.9 152.2 162.9 C154.7 158.8 156.4 155.6 159.2 151.8 C161.9 148.1 165.0 146.0 167.6 142.0 C170.3 137.9 171.8 133.0 173.8 129.2 C175.8 125.5 176.9 123.2 178.9 121.1 C180.9 119.0 182.4 118.9 184.7 117.6 C186.9 116.4 189.3 115.5 191.5 114.1 C193.8 112.8 195.1 110.0 197.2 110.0 C199.2 110.0 201.0 111.4 202.8 114.1 C204.6 116.8 205.5 121.4 207.0 124.9 C208.6 128.5 209.7 135.2 211.3 133.9 C212.8 132.5 214.3 124.1 215.5 117.6 C216.8 111.1 217.2 103.5 218.3 97.9 C219.3 92.3 220.1 88.8 221.3 86.5 C222.4 84.3 223.3 85.5 224.7 85.4 C226.0 85.2 227.7 84.7 228.8 85.6 C229.9 86.5 230.3 87.1 230.9 90.4 C231.5 93.6 231.6 98.6 232.3 103.7 C232.9 108.8 233.6 113.1 234.4 118.8 C235.2 124.4 235.8 128.1 236.5 135.0 C237.2 141.9 237.3 149.3 238.4 157.1 C239.5 164.8 240.8 172.1 242.5 177.9 C244.3 183.8 245.6 186.5 248.2 189.5 C250.7 192.6 253.5 193.3 256.7 194.8 C259.8 196.2 264.2 197.1 265.9 197.7" fill="none" stroke="#9385ee" stroke-width="1.15" stroke-dasharray="3.9 2.5" stroke-linejoin="round"/>
<path d="M208.4 197.7 C209.2 197.5 210.7 197.5 212.6 197.0 C214.6 196.4 217.1 196.3 219.2 194.5 C221.2 192.8 222.5 190.3 224.2 187.2 C225.8 184.1 227.0 180.6 228.2 177.3 C229.3 174.1 229.8 172.8 230.7 169.2 C231.5 165.7 232.1 161.9 233.0 157.7 C233.9 153.6 234.5 151.4 235.5 146.4 C236.6 141.4 237.7 135.6 238.8 130.0 C239.9 124.4 240.6 119.6 241.5 115.3 C242.5 111.0 242.9 109.5 244.0 106.0 C245.2 102.6 246.5 98.2 247.8 96.2 C249.0 94.1 249.7 95.0 250.9 94.4 C252.1 93.8 253.2 93.6 254.3 93.0 C255.3 92.4 255.8 91.8 256.7 90.9 C257.5 90.0 258.3 88.9 259.2 88.0 C260.0 87.2 260.6 86.6 261.5 86.1 C262.4 85.5 263.0 85.1 264.0 84.8 C265.0 84.4 266.0 84.2 267.1 84.2 C268.3 84.2 269.4 84.0 270.6 84.6 C271.9 85.1 272.7 85.8 273.9 87.0 C275.1 88.2 275.8 88.0 277.1 91.0 C278.5 94.1 279.8 99.2 281.3 104.2 C282.7 109.1 284.0 113.5 285.3 118.8 C286.6 124.1 287.4 127.9 288.5 133.5 C289.7 139.1 290.2 143.5 291.8 149.9 C293.4 156.2 295.2 163.0 297.5 168.7 C299.8 174.3 301.9 178.4 304.6 181.4 C307.4 184.4 308.0 184.3 313.0 185.2 C318.1 186.1 326.5 185.7 332.6 186.4 C338.8 187.1 342.2 188.1 347.1 189.0 C352.1 189.8 355.8 190.5 360.0 191.3 C364.3 192.0 366.9 192.4 370.9 193.0 C374.9 193.7 378.5 194.1 382.1 194.9 C385.8 195.6 388.4 196.6 390.9 197.1 C393.4 197.6 395.0 197.5 395.9 197.7 Z" fill="rgba(120,104,246,0.385)" stroke="none"/>
<path d="M103.4 197.7 L208.4 197.7 C209.2 197.5 210.7 197.5 212.6 197.0 C214.6 196.4 217.1 196.3 219.2 194.5 C221.2 192.8 222.5 190.3 224.2 187.2 C225.8 184.1 227.0 180.6 228.2 177.3 C229.3 174.1 229.8 172.8 230.7 169.2 C231.5 165.7 232.1 161.9 233.0 157.7 C233.9 153.6 234.5 151.4 235.5 146.4 C236.6 141.4 237.7 135.6 238.8 130.0 C239.9 124.4 240.6 119.6 241.5 115.3 C242.5 111.0 242.9 109.5 244.0 106.0 C245.2 102.6 246.5 98.2 247.8 96.2 C249.0 94.1 249.7 95.0 250.9 94.4 C252.1 93.8 253.2 93.6 254.3 93.0 C255.3 92.4 255.8 91.8 256.7 90.9 C257.5 90.0 258.3 88.9 259.2 88.0 C260.0 87.2 260.6 86.6 261.5 86.1 C262.4 85.5 263.0 85.1 264.0 84.8 C265.0 84.4 266.0 84.2 267.1 84.2 C268.3 84.2 269.4 84.0 270.6 84.6 C271.9 85.1 272.7 85.8 273.9 87.0 C275.1 88.2 275.8 88.0 277.1 91.0 C278.5 94.1 279.8 99.2 281.3 104.2 C282.7 109.1 284.0 113.5 285.3 118.8 C286.6 124.1 287.4 127.9 288.5 133.5 C289.7 139.1 290.2 143.5 291.8 149.9 C293.4 156.2 295.2 163.0 297.5 168.7 C299.8 174.3 301.9 178.4 304.6 181.4 C307.4 184.4 308.0 184.3 313.0 185.2 C318.1 186.1 326.5 185.7 332.6 186.4 C338.8 187.1 342.2 188.1 347.1 189.0 C352.1 189.8 355.8 190.5 360.0 191.3 C364.3 192.0 366.9 192.4 370.9 193.0 C374.9 193.7 378.5 194.1 382.1 194.9 C385.8 195.6 388.4 196.6 390.9 197.1 C393.4 197.6 395.0 197.5 395.9 197.7 L972.4 197.7" fill="none" stroke="#7c70ea" stroke-width="1.05" stroke-linejoin="round"/>
<path d="M103.4 152.4 C105.2 151.5 109.7 149.2 113.4 147.2 C117.1 145.1 120.5 142.4 123.9 141.0 C127.3 139.7 129.5 141.2 132.2 139.7 C134.8 138.1 135.9 135.8 138.4 132.7 C140.9 129.6 143.2 126.4 145.9 122.2 C148.6 118.1 150.9 113.9 153.4 109.5 C155.9 105.1 157.4 101.4 159.7 97.9 C161.9 94.3 164.0 92.1 165.9 89.8 C167.8 87.5 168.4 86.1 170.3 85.1 C172.2 84.1 174.4 83.9 176.5 84.2 C178.7 84.5 179.8 85.5 182.2 86.9 C184.5 88.3 187.4 89.8 189.7 92.1 C191.9 94.4 192.8 96.5 194.7 99.6 C196.5 102.8 197.3 103.7 199.7 109.5 C202.0 115.3 205.3 125.3 207.6 132.0 C210.0 138.7 211.0 141.5 212.8 146.6 C214.6 151.7 215.8 156.0 217.5 160.5 C219.2 165.0 220.6 168.0 222.2 171.6 C223.7 175.1 224.4 177.4 225.9 180.2 C227.4 183.1 228.8 185.1 230.3 187.2 C231.8 189.3 232.2 190.3 234.2 191.8 C236.1 193.4 238.3 194.5 240.9 195.6 C243.5 196.6 247.1 197.3 248.4 197.7" fill="none" stroke="#8cc3f7" stroke-width="1.15" stroke-dasharray="3.9 2.5" stroke-linejoin="round"/>
<path d="M213.4 197.7 C214.3 197.4 216.5 197.1 218.4 196.5 C220.3 195.9 221.1 195.7 224.2 194.5 C227.2 193.4 233.0 191.6 235.5 190.1 C238.1 188.6 237.4 187.8 238.4 186.1 C239.4 184.3 240.2 183.1 241.3 180.6 C242.4 178.1 243.2 175.6 244.5 172.4 C245.8 169.2 247.1 166.1 248.5 162.9 C250.0 159.6 251.0 158.0 252.6 154.5 C254.3 150.9 255.8 147.5 257.5 143.1 C259.3 138.7 260.6 134.7 262.4 130.0 C264.2 125.3 265.6 121.8 267.4 117.1 C269.2 112.5 270.7 108.6 272.3 104.2 C273.9 99.7 274.9 95.5 276.3 92.7 C277.6 89.9 278.0 89.8 279.6 88.6 C281.3 87.4 282.5 86.9 285.3 86.2 C288.1 85.4 291.6 84.8 295.1 84.6 C298.7 84.3 302.0 83.8 304.9 84.6 C307.8 85.3 309.0 86.9 311.4 88.6 C313.8 90.4 315.7 92.1 318.0 94.3 C320.4 96.5 322.2 98.3 324.5 100.9 C326.9 103.6 328.7 106.2 331.0 109.0 C333.4 111.8 335.2 114.1 337.5 116.5 C339.9 118.8 341.8 119.6 344.2 122.1 C346.5 124.6 348.3 127.2 350.6 130.3 C353.0 133.3 354.8 135.9 357.1 139.2 C359.5 142.4 361.7 146.1 363.6 148.2 C365.6 150.4 366.1 150.1 368.1 151.2 C370.2 152.4 372.6 152.6 375.1 154.7 C377.7 156.8 379.4 160.1 382.1 162.9 C384.9 165.6 387.6 167.7 390.6 169.8 C393.7 171.9 396.0 172.8 399.0 174.5 C402.1 176.1 404.5 177.3 407.5 179.1 C410.6 180.9 412.9 182.8 415.9 184.3 C418.9 185.8 420.8 186.4 424.4 187.2 C428.0 188.0 432.6 188.1 435.6 188.6 C438.7 189.1 438.2 189.5 441.3 190.1 C444.3 190.7 449.2 191.2 452.5 191.8 C455.8 192.5 457.6 192.9 459.6 193.6 C461.7 194.3 462.6 195.3 463.9 195.9 C465.2 196.5 465.2 197.3 466.8 197.1 C468.3 196.9 470.5 195.3 472.4 194.9 C474.3 194.5 475.8 194.5 477.1 194.9 C478.5 195.3 478.8 196.6 479.6 197.1 C480.5 197.6 481.7 197.5 482.1 197.7 Z" fill="rgba(100,170,250,0.37)" stroke="none"/>
<path d="M103.4 197.7 L213.4 197.7 C214.3 197.4 216.5 197.1 218.4 196.5 C220.3 195.9 221.1 195.7 224.2 194.5 C227.2 193.4 233.0 191.6 235.5 190.1 C238.1 188.6 237.4 187.8 238.4 186.1 C239.4 184.3 240.2 183.1 241.3 180.6 C242.4 178.1 243.2 175.6 244.5 172.4 C245.8 169.2 247.1 166.1 248.5 162.9 C250.0 159.6 251.0 158.0 252.6 154.5 C254.3 150.9 255.8 147.5 257.5 143.1 C259.3 138.7 260.6 134.7 262.4 130.0 C264.2 125.3 265.6 121.8 267.4 117.1 C269.2 112.5 270.7 108.6 272.3 104.2 C273.9 99.7 274.9 95.5 276.3 92.7 C277.6 89.9 278.0 89.8 279.6 88.6 C281.3 87.4 282.5 86.9 285.3 86.2 C288.1 85.4 291.6 84.8 295.1 84.6 C298.7 84.3 302.0 83.8 304.9 84.6 C307.8 85.3 309.0 86.9 311.4 88.6 C313.8 90.4 315.7 92.1 318.0 94.3 C320.4 96.5 322.2 98.3 324.5 100.9 C326.9 103.6 328.7 106.2 331.0 109.0 C333.4 111.8 335.2 114.1 337.5 116.5 C339.9 118.8 341.8 119.6 344.2 122.1 C346.5 124.6 348.3 127.2 350.6 130.3 C353.0 133.3 354.8 135.9 357.1 139.2 C359.5 142.4 361.7 146.1 363.6 148.2 C365.6 150.4 366.1 150.1 368.1 151.2 C370.2 152.4 372.6 152.6 375.1 154.7 C377.7 156.8 379.4 160.1 382.1 162.9 C384.9 165.6 387.6 167.7 390.6 169.8 C393.7 171.9 396.0 172.8 399.0 174.5 C402.1 176.1 404.5 177.3 407.5 179.1 C410.6 180.9 412.9 182.8 415.9 184.3 C418.9 185.8 420.8 186.4 424.4 187.2 C428.0 188.0 432.6 188.1 435.6 188.6 C438.7 189.1 438.2 189.5 441.3 190.1 C444.3 190.7 449.2 191.2 452.5 191.8 C455.8 192.5 457.6 192.9 459.6 193.6 C461.7 194.3 462.6 195.3 463.9 195.9 C465.2 196.5 465.2 197.3 466.8 197.1 C468.3 196.9 470.5 195.3 472.4 194.9 C474.3 194.5 475.8 194.5 477.1 194.9 C478.5 195.3 478.8 196.6 479.6 197.1 C480.5 197.6 481.7 197.5 482.1 197.7 L972.4 197.7" fill="none" stroke="#6fadf3" stroke-width="1.05" stroke-linejoin="round"/>
<defs><linearGradient id="sp" x1="0" x2="1" y1="0" y2="0">
<stop offset="0.0000" stop-color="#a2a2a6"/>
<stop offset="0.0317" stop-color="#a4a0a6"/>
<stop offset="0.0432" stop-color="#b49cb0"/>
<stop offset="0.0576" stop-color="#c69abe"/>
<stop offset="0.0719" stop-color="#d09ccc"/>
<stop offset="0.1007" stop-color="#daa2dd"/>
<stop offset="0.1295" stop-color="#dfa4e6"/>
<stop offset="0.1511" stop-color="#cf9aee"/>
<stop offset="0.1799" stop-color="#b596f4"/>
<stop offset="0.2014" stop-color="#9ea4f6"/>
<stop offset="0.2302" stop-color="#92c6f7"/>
<stop offset="0.2590" stop-color="#8ae8f5"/>
<stop offset="0.2806" stop-color="#8ef5e2"/>
<stop offset="0.3022" stop-color="#a0f5b4"/>
<stop offset="0.3309" stop-color="#c2f59e"/>
<stop offset="0.3597" stop-color="#e3f592"/>
<stop offset="0.3957" stop-color="#f7f18e"/>
<stop offset="0.4173" stop-color="#f9de94"/>
<stop offset="0.4460" stop-color="#f9c49a"/>
<stop offset="0.4748" stop-color="#f7a69c"/>
<stop offset="0.5036" stop-color="#f49ea6"/>
<stop offset="0.5755" stop-color="#f4a0a8"/>
<stop offset="0.6906" stop-color="#f2a4ac"/>
<stop offset="0.7906" stop-color="#e8a6ae"/>
<stop offset="0.7914" stop-color="#8b9096"/>
<stop offset="1.0000" stop-color="#8b9096"/>
</linearGradient></defs>
<rect x="102.8" y="198.2" width="869.6" height="3.2" fill="url(#sp)"/>
<rect x="102.80" y="198.5" width="0.70" height="2.9" fill="rgba(35,38,46,0.25)"/><rect x="104.05" y="198.5" width="0.90" height="2.9" fill="rgba(35,38,46,0.25)"/><rect x="105.30" y="198.5" width="0.50" height="2.9" fill="rgba(35,38,46,0.55)"/><rect x="107.80" y="198.5" width="0.70" height="2.9" fill="rgba(35,38,46,0.25)"/><rect x="109.05" y="198.5" width="0.50" height="2.9" fill="rgba(35,38,46,0.25)"/><rect x="110.30" y="198.5" width="0.90" height="2.9" fill="rgba(35,38,46,0.25)"/><rect x="111.55" y="198.5" width="0.90" height="2.9" fill="rgba(35,38,46,0.25)"/><rect x="112.80" y="198.5" width="0.90" height="2.9" fill="rgba(35,38,46,0.25)"/><rect x="114.05" y="198.5" width="0.50" height="2.9" fill="rgba(35,38,46,0.25)"/><rect x="115.30" y="198.5" width="0.70" height="2.9" fill="rgba(35,38,46,0.25)"/><rect x="116.55" y="198.5" width="0.50" height="2.9" fill="rgba(35,38,46,0.55)"/><rect x="117.80" y="198.5" width="0.90" height="2.9" fill="rgba(35,38,46,0.55)"/><rect x="119.05" y="198.5" width="0.90" height="2.9" fill="rgba(35,38,46,0.55)"/><rect x="120.30" y="198.5" width="0.50" height="2.9" fill="rgba(35,38,46,0.40)"/><rect x="121.55" y="198.5" width="0.90" height="2.9" fill="rgba(35,38,46,0.25)"/><rect x="122.80" y="198.5" width="0.70" height="2.9" fill="rgba(35,38,46,0.25)"/><rect x="124.05" y="198.5" width="0.70" height="2.9" fill="rgba(35,38,46,0.40)"/><rect x="125.30" y="198.5" width="0.70" height="2.9" fill="rgba(35,38,46,0.40)"/><rect x="126.55" y="198.5" width="0.90" height="2.9" fill="rgba(35,38,46,0.25)"/><rect x="129.05" y="198.5" width="0.90" height="2.9" fill="rgba(35,38,46,0.40)"/><rect x="130.30" y="198.5" width="0.90" height="2.9" fill="rgba(35,38,46,0.40)"/><rect x="131.55" y="198.5" width="0.50" height="2.9" fill="rgba(35,38,46,0.55)"/><rect x="132.80" y="198.5" width="0.50" height="2.9" fill="rgba(35,38,46,0.40)"/><rect x="135.30" y="198.5" width="0.70" height="2.9" fill="rgba(35,38,46,0.40)"/><rect x="136.55" y="198.5" width="0.40" height="2.9" fill="rgba(130,70,120,0.15)"/><rect x="139.05" y="198.5" width="0.60" height="2.9" fill="rgba(255,255,255,0.2)"/><rect x="140.30" y="198.5" width="0.60" height="2.9" fill="rgba(130,70,120,0.15)"/><rect x="141.55" y="198.5" width="0.40" height="2.9" fill="rgba(255,255,255,0.2)"/><rect x="145.30" y="198.5" width="0.40" height="2.9" fill="rgba(130,70,120,0.15)"/><rect x="146.55" y="198.5" width="0.60" height="2.9" fill="rgba(130,70,120,0.15)"/><rect x="147.80" y="198.5" width="0.60" height="2.9" fill="rgba(130,70,120,0.15)"/><rect x="149.05" y="198.5" width="0.60" height="2.9" fill="rgba(255,255,255,0.2)"/><rect x="150.30" y="198.5" width="0.60" height="2.9" fill="rgba(255,255,255,0.2)"/><rect x="151.55" y="198.5" width="0.60" height="2.9" fill="rgba(255,255,255,0.35)"/><rect x="152.80" y="198.5" width="0.40" height="2.9" fill="rgba(255,255,255,0.2)"/><rect x="155.30" y="198.5" width="0.40" height="2.9" fill="rgba(255,255,255,0.2)"/><rect x="156.55" y="198.5" width="0.60" height="2.9" fill="rgba(255,255,255,0.2)"/><rect x="161.55" y="198.5" width="0.60" height="2.9" fill="rgba(255,255,255,0.2)"/><rect x="162.80" y="198.5" width="0.40" height="2.9" fill="rgba(255,255,255,0.2)"/><rect x="164.05" y="198.5" width="0.40" height="2.9" fill="rgba(255,255,255,0.35)"/><rect x="165.30" y="198.5" width="0.40" height="2.9" fill="rgba(255,255,255,0.35)"/><rect x="166.55" y="198.5" width="0.40" height="2.9" fill="rgba(130,70,120,0.15)"/><rect x="167.80" y="198.5" width="0.40" height="2.9" fill="rgba(255,255,255,0.35)"/><rect x="169.05" y="198.5" width="0.60" height="2.9" fill="rgba(255,255,255,0.2)"/><rect x="171.55" y="198.5" width="0.40" height="2.9" fill="rgba(130,70,120,0.15)"/><rect x="172.80" y="198.5" width="0.60" height="2.9" fill="rgba(130,70,120,0.15)"/><rect x="174.05" y="198.5" width="0.40" height="2.9" fill="rgba(255,255,255,0.2)"/><rect x="175.30" y="198.5" width="0.40" height="2.9" fill="rgba(255,255,255,0.2)"/><rect x="176.55" y="198.5" width="0.60" height="2.9" fill="rgba(255,255,255,0.35)"/><rect x="177.80" y="198.5" width="0.40" height="2.9" fill="rgba(255,255,255,0.2)"/><rect x="179.05" y="198.5" width="0.40" height="2.9" fill="rgba(130,70,120,0.15)"/><rect x="180.30" y="198.5" width="0.40" height="2.9" fill="rgba(255,255,255,0.2)"/><rect x="181.55" y="198.5" width="0.60" height="2.9" fill="rgba(255,255,255,0.35)"/><rect x="182.80" y="198.5" width="0.60" height="2.9" fill="rgba(255,255,255,0.2)"/><rect x="184.05" y="198.5" width="0.40" height="2.9" fill="rgba(255,255,255,0.2)"/><rect x="185.30" y="198.5" width="0.60" height="2.9" fill="rgba(255,255,255,0.2)"/><rect x="186.55" y="198.5" width="0.40" height="2.9" fill="rgba(255,255,255,0.2)"/><rect x="187.80" y="198.5" width="0.60" height="2.9" fill="rgba(130,70,120,0.15)"/><rect x="190.30" y="198.5" width="0.40" height="2.9" fill="rgba(130,70,120,0.15)"/><rect x="191.55" y="198.5" width="0.60" height="2.9" fill="rgba(255,255,255,0.35)"/><rect x="192.80" y="198.5" width="0.40" height="2.9" fill="rgba(130,70,120,0.15)"/><rect x="195.30" y="198.5" width="0.40" height="2.9" fill="rgba(130,70,120,0.15)"/><rect x="196.55" y="198.5" width="0.60" height="2.9" fill="rgba(255,255,255,0.2)"/><rect x="199.05" y="198.5" width="0.60" height="2.9" fill="rgba(255,255,255,0.35)"/><rect x="200.30" y="198.5" width="0.40" height="2.9" fill="rgba(130,70,120,0.15)"/><rect x="205.30" y="198.5" width="0.60" height="2.9" fill="rgba(130,70,120,0.15)"/><rect x="206.55" y="198.5" width="0.40" height="2.9" fill="rgba(255,255,255,0.35)"/><rect x="209.05" y="198.5" width="0.60" height="2.9" fill="rgba(255,255,255,0.35)"/><rect x="210.30" y="198.5" width="0.60" height="2.9" fill="rgba(130,70,120,0.15)"/><rect x="212.80" y="198.5" width="0.40" height="2.9" fill="rgba(255,255,255,0.35)"/><rect x="214.05" y="198.5" width="0.60" height="2.9" fill="rgba(255,255,255,0.35)"/><rect x="215.30" y="198.5" width="0.40" height="2.9" fill="rgba(130,70,120,0.15)"/><rect x="216.55" y="198.5" width="0.60" height="2.9" fill="rgba(130,70,120,0.15)"/><rect x="219.05" y="198.5" width="0.40" height="2.9" fill="rgba(130,70,120,0.15)"/><rect x="224.05" y="198.5" width="0.60" height="2.9" fill="rgba(255,255,255,0.35)"/><rect x="226.55" y="198.5" width="0.60" height="2.9" fill="rgba(130,70,120,0.15)"/><rect x="227.80" y="198.5" width="0.40" height="2.9" fill="rgba(130,70,120,0.15)"/><rect x="230.30" y="198.5" width="0.40" height="2.9" fill="rgba(255,255,255,0.35)"/><rect x="231.55" y="198.5" width="0.40" height="2.9" fill="rgba(255,255,255,0.2)"/><rect x="232.80" y="198.5" width="0.60" height="2.9" fill="rgba(130,70,120,0.15)"/><rect x="234.05" y="198.5" width="0.40" height="2.9" fill="rgba(255,255,255,0.2)"/><rect x="235.30" y="198.5" width="0.40" height="2.9" fill="rgba(255,255,255,0.35)"/><rect x="236.55" y="198.5" width="0.40" height="2.9" fill="rgba(130,70,120,0.15)"/><rect x="237.80" y="198.5" width="0.60" height="2.9" fill="rgba(255,255,255,0.35)"/><rect x="240.30" y="198.5" width="0.40" height="2.9" fill="rgba(255,255,255,0.35)"/><rect x="241.55" y="198.5" width="0.40" height="2.9" fill="rgba(255,255,255,0.2)"/><rect x="244.05" y="198.5" width="0.60" height="2.9" fill="rgba(130,70,120,0.15)"/><rect x="246.55" y="198.5" width="0.60" height="2.9" fill="rgba(130,70,120,0.15)"/><rect x="249.05" y="198.5" width="0.60" height="2.9" fill="rgba(130,70,120,0.15)"/><rect x="252.80" y="198.5" width="0.40" height="2.9" fill="rgba(255,255,255,0.35)"/><rect x="256.55" y="198.5" width="0.40" height="2.9" fill="rgba(255,255,255,0.35)"/><rect x="257.80" y="198.5" width="0.40" height="2.9" fill="rgba(130,70,120,0.15)"/><rect x="259.05" y="198.5" width="0.60" height="2.9" fill="rgba(255,255,255,0.2)"/><rect x="261.55" y="198.5" width="0.40" height="2.9" fill="rgba(130,70,120,0.15)"/><rect x="262.80" y="198.5" width="0.40" height="2.9" fill="rgba(255,255,255,0.2)"/><rect x="265.30" y="198.5" width="0.40" height="2.9" fill="rgba(130,70,120,0.15)"/><rect x="269.05" y="198.5" width="0.40" height="2.9" fill="rgba(130,70,120,0.15)"/><rect x="270.30" y="198.5" width="0.60" height="2.9" fill="rgba(255,255,255,0.2)"/><rect x="271.55" y="198.5" width="0.60" height="2.9" fill="rgba(255,255,255,0.35)"/><rect x="275.30" y="198.5" width="0.40" height="2.9" fill="rgba(255,255,255,0.2)"/><rect x="276.55" y="198.5" width="0.60" height="2.9" fill="rgba(255,255,255,0.2)"/><rect x="277.80" y="198.5" width="0.40" height="2.9" fill="rgba(130,70,120,0.15)"/><rect x="279.05" y="198.5" width="0.60" height="2.9" fill="rgba(255,255,255,0.35)"/><rect x="282.80" y="198.5" width="0.60" height="2.9" fill="rgba(130,70,120,0.15)"/><rect x="284.05" y="198.5" width="0.60" height="2.9" fill="rgba(255,255,255,0.35)"/><rect x="285.30" y="198.5" width="0.60" height="2.9" fill="rgba(255,255,255,0.35)"/><rect x="287.80" y="198.5" width="0.40" height="2.9" fill="rgba(130,70,120,0.15)"/><rect x="289.05" y="198.5" width="0.60" height="2.9" fill="rgba(255,255,255,0.2)"/><rect x="290.30" y="198.5" width="0.60" height="2.9" fill="rgba(255,255,255,0.35)"/><rect x="291.55" y="198.5" width="0.60" height="2.9" fill="rgba(130,70,120,0.15)"/><rect x="292.80" y="198.5" width="0.60" height="2.9" fill="rgba(130,70,120,0.15)"/><rect x="294.05" y="198.5" width="0.60" height="2.9" fill="rgba(255,255,255,0.35)"/><rect x="295.30" y="198.5" width="0.60" height="2.9" fill="rgba(130,70,120,0.15)"/><rect x="296.55" y="198.5" width="0.40" height="2.9" fill="rgba(255,255,255,0.35)"/><rect x="301.55" y="198.5" width="0.60" height="2.9" fill="rgba(255,255,255,0.2)"/><rect x="302.80" y="198.5" width="0.60" height="2.9" fill="rgba(255,255,255,0.35)"/><rect x="307.80" y="198.5" width="0.60" height="2.9" fill="rgba(255,255,255,0.2)"/><rect x="309.05" y="198.5" width="0.60" height="2.9" fill="rgba(130,70,120,0.15)"/><rect x="311.55" y="198.5" width="0.40" height="2.9" fill="rgba(255,255,255,0.35)"/><rect x="312.80" y="198.5" width="0.60" height="2.9" fill="rgba(255,255,255,0.35)"/><rect x="315.30" y="198.5" width="0.40" height="2.9" fill="rgba(255,255,255,0.2)"/><rect x="316.55" y="198.5" width="0.40" height="2.9" fill="rgba(255,255,255,0.35)"/><rect x="317.80" y="198.5" width="0.60" height="2.9" fill="rgba(255,255,255,0.35)"/><rect x="319.05" y="198.5" width="0.60" height="2.9" fill="rgba(130,70,120,0.15)"/><rect x="321.55" y="198.5" width="0.40" height="2.9" fill="rgba(255,255,255,0.35)"/><rect x="322.80" y="198.5" width="0.40" height="2.9" fill="rgba(255,255,255,0.35)"/><rect x="325.30" y="198.5" width="0.40" height="2.9" fill="rgba(255,255,255,0.35)"/><rect x="327.80" y="198.5" width="0.40" height="2.9" fill="rgba(130,70,120,0.15)"/><rect x="329.05" y="198.5" width="0.40" height="2.9" fill="rgba(130,70,120,0.15)"/><rect x="330.30" y="198.5" width="0.60" height="2.9" fill="rgba(255,255,255,0.35)"/><rect x="331.55" y="198.5" width="0.40" height="2.9" fill="rgba(255,255,255,0.35)"/><rect x="332.80" y="198.5" width="0.60" height="2.9" fill="rgba(255,255,255,0.35)"/><rect x="334.05" y="198.5" width="0.60" height="2.9" fill="rgba(130,70,120,0.15)"/><rect x="335.30" y="198.5" width="0.60" height="2.9" fill="rgba(130,70,120,0.15)"/><rect x="337.80" y="198.5" width="0.40" height="2.9" fill="rgba(255,255,255,0.35)"/><rect x="339.05" y="198.5" width="0.40" height="2.9" fill="rgba(130,70,120,0.15)"/><rect x="340.30" y="198.5" width="0.40" height="2.9" fill="rgba(255,255,255,0.2)"/><rect x="342.80" y="198.5" width="0.60" height="2.9" fill="rgba(130,70,120,0.15)"/><rect x="344.05" y="198.5" width="0.40" height="2.9" fill="rgba(255,255,255,0.35)"/><rect x="345.30" y="198.5" width="0.60" height="2.9" fill="rgba(255,255,255,0.2)"/><rect x="346.55" y="198.5" width="0.60" height="2.9" fill="rgba(130,70,120,0.15)"/><rect x="347.80" y="198.5" width="0.40" height="2.9" fill="rgba(255,255,255,0.35)"/><rect x="349.05" y="198.5" width="0.60" height="2.9" fill="rgba(255,255,255,0.35)"/><rect x="350.30" y="198.5" width="0.60" height="2.9" fill="rgba(255,255,255,0.2)"/><rect x="351.55" y="198.5" width="0.40" height="2.9" fill="rgba(255,255,255,0.2)"/><rect x="352.80" y="198.5" width="0.60" height="2.9" fill="rgba(255,255,255,0.35)"/><rect x="354.05" y="198.5" width="0.60" height="2.9" fill="rgba(255,255,255,0.2)"/><rect x="355.30" y="198.5" width="0.40" height="2.9" fill="rgba(255,255,255,0.35)"/><rect x="356.55" y="198.5" width="0.40" height="2.9" fill="rgba(255,255,255,0.35)"/><rect x="357.80" y="198.5" width="0.40" height="2.9" fill="rgba(255,255,255,0.35)"/><rect x="359.05" y="198.5" width="0.60" height="2.9" fill="rgba(255,255,255,0.35)"/><rect x="360.30" y="198.5" width="0.40" height="2.9" fill="rgba(255,255,255,0.2)"/><rect x="361.55" y="198.5" width="0.40" height="2.9" fill="rgba(130,70,120,0.15)"/><rect x="362.80" y="198.5" width="0.60" height="2.9" fill="rgba(130,70,120,0.15)"/><rect x="366.55" y="198.5" width="0.40" height="2.9" fill="rgba(255,255,255,0.2)"/><rect x="367.80" y="198.5" width="0.60" height="2.9" fill="rgba(130,70,120,0.15)"/><rect x="371.55" y="198.5" width="0.40" height="2.9" fill="rgba(130,70,120,0.15)"/><rect x="374.05" y="198.5" width="0.40" height="2.9" fill="rgba(130,70,120,0.15)"/><rect x="375.30" y="198.5" width="0.40" height="2.9" fill="rgba(255,255,255,0.35)"/><rect x="376.55" y="198.5" width="0.60" height="2.9" fill="rgba(255,255,255,0.35)"/><rect x="379.05" y="198.5" width="0.40" height="2.9" fill="rgba(130,70,120,0.15)"/><rect x="380.30" y="198.5" width="0.40" height="2.9" fill="rgba(130,70,120,0.15)"/><rect x="381.55" y="198.5" width="0.60" height="2.9" fill="rgba(255,255,255,0.35)"/><rect x="385.30" y="198.5" width="0.40" height="2.9" fill="rgba(130,70,120,0.15)"/><rect x="386.55" y="198.5" width="0.60" height="2.9" fill="rgba(255,255,255,0.35)"/><rect x="387.80" y="198.5" width="0.60" height="2.9" fill="rgba(255,255,255,0.35)"/><rect x="389.05" y="198.5" width="0.40" height="2.9" fill="rgba(255,255,255,0.35)"/><rect x="392.80" y="198.5" width="0.40" height="2.9" fill="rgba(255,255,255,0.2)"/><rect x="394.05" y="198.5" width="0.60" height="2.9" fill="rgba(130,70,120,0.15)"/><rect x="396.55" y="198.5" width="0.40" height="2.9" fill="rgba(130,70,120,0.15)"/><rect x="397.80" y="198.5" width="0.60" height="2.9" fill="rgba(255,255,255,0.35)"/><rect x="399.05" y="198.5" width="0.60" height="2.9" fill="rgba(130,70,120,0.15)"/><rect x="400.30" y="198.5" width="0.40" height="2.9" fill="rgba(255,255,255,0.35)"/><rect x="401.55" y="198.5" width="0.60" height="2.9" fill="rgba(255,255,255,0.2)"/><rect x="404.05" y="198.5" width="0.60" height="2.9" fill="rgba(255,255,255,0.35)"/><rect x="405.30" y="198.5" width="0.60" height="2.9" fill="rgba(130,70,120,0.15)"/><rect x="406.55" y="198.5" width="0.40" height="2.9" fill="rgba(255,255,255,0.2)"/><rect x="409.05" y="198.5" width="0.40" height="2.9" fill="rgba(255,255,255,0.2)"/><rect x="411.55" y="198.5" width="0.40" height="2.9" fill="rgba(255,255,255,0.2)"/><rect x="415.30" y="198.5" width="0.60" height="2.9" fill="rgba(255,255,255,0.2)"/><rect x="416.55" y="198.5" width="0.40" height="2.9" fill="rgba(255,255,255,0.35)"/><rect x="417.80" y="198.5" width="0.60" height="2.9" fill="rgba(255,255,255,0.35)"/><rect x="420.30" y="198.5" width="0.60" height="2.9" fill="rgba(130,70,120,0.15)"/><rect x="424.05" y="198.5" width="0.60" height="2.9" fill="rgba(255,255,255,0.2)"/><rect x="425.30" y="198.5" width="0.60" height="2.9" fill="rgba(255,255,255,0.35)"/><rect x="426.55" y="198.5" width="0.60" height="2.9" fill="rgba(255,255,255,0.2)"/><rect x="429.05" y="198.5" width="0.60" height="2.9" fill="rgba(255,255,255,0.2)"/><rect x="430.30" y="198.5" width="0.40" height="2.9" fill="rgba(255,255,255,0.2)"/><rect x="431.55" y="198.5" width="0.60" height="2.9" fill="rgba(255,255,255,0.2)"/><rect x="432.80" y="198.5" width="0.40" height="2.9" fill="rgba(255,255,255,0.35)"/><rect x="435.30" y="198.5" width="0.40" height="2.9" fill="rgba(255,255,255,0.2)"/><rect x="436.55" y="198.5" width="0.40" height="2.9" fill="rgba(130,70,120,0.15)"/><rect x="437.80" y="198.5" width="0.60" height="2.9" fill="rgba(255,255,255,0.2)"/><rect x="440.30" y="198.5" width="0.60" height="2.9" fill="rgba(255,255,255,0.35)"/><rect x="441.55" y="198.5" width="0.40" height="2.9" fill="rgba(255,255,255,0.35)"/><rect x="444.05" y="198.5" width="0.40" height="2.9" fill="rgba(255,255,255,0.2)"/><rect x="447.80" y="198.5" width="0.60" height="2.9" fill="rgba(255,255,255,0.35)"/><rect x="451.55" y="198.5" width="0.40" height="2.9" fill="rgba(130,70,120,0.15)"/><rect x="452.80" y="198.5" width="0.60" height="2.9" fill="rgba(130,70,120,0.15)"/><rect x="454.05" y="198.5" width="0.60" height="2.9" fill="rgba(255,255,255,0.35)"/><rect x="455.30" y="198.5" width="0.40" height="2.9" fill="rgba(130,70,120,0.15)"/><rect x="456.55" y="198.5" width="0.60" height="2.9" fill="rgba(255,255,255,0.2)"/><rect x="457.80" y="198.5" width="0.60" height="2.9" fill="rgba(255,255,255,0.2)"/><rect x="459.05" y="198.5" width="0.60" height="2.9" fill="rgba(255,255,255,0.35)"/><rect x="460.30" y="198.5" width="0.60" height="2.9" fill="rgba(130,70,120,0.15)"/><rect x="461.55" y="198.5" width="0.40" height="2.9" fill="rgba(130,70,120,0.15)"/><rect x="462.80" y="198.5" width="0.60" height="2.9" fill="rgba(130,70,120,0.15)"/><rect x="464.05" y="198.5" width="0.60" height="2.9" fill="rgba(255,255,255,0.2)"/><rect x="466.55" y="198.5" width="0.40" height="2.9" fill="rgba(255,255,255,0.35)"/><rect x="467.80" y="198.5" width="0.60" height="2.9" fill="rgba(255,255,255,0.35)"/><rect x="469.05" y="198.5" width="0.40" height="2.9" fill="rgba(255,255,255,0.2)"/><rect x="470.30" y="198.5" width="0.40" height="2.9" fill="rgba(130,70,120,0.15)"/><rect x="474.05" y="198.5" width="0.40" height="2.9" fill="rgba(255,255,255,0.2)"/><rect x="475.30" y="198.5" width="0.40" height="2.9" fill="rgba(255,255,255,0.2)"/><rect x="476.55" y="198.5" width="0.60" height="2.9" fill="rgba(130,70,120,0.15)"/><rect x="477.80" y="198.5" width="0.40" height="2.9" fill="rgba(130,70,120,0.15)"/><rect x="479.05" y="198.5" width="0.60" height="2.9" fill="rgba(255,255,255,0.35)"/><rect x="480.30" y="198.5" width="0.60" height="2.9" fill="rgba(255,255,255,0.2)"/><rect x="485.30" y="198.5" width="0.60" height="2.9" fill="rgba(255,255,255,0.35)"/><rect x="489.05" y="198.5" width="0.60" height="2.9" fill="rgba(130,70,120,0.15)"/><rect x="490.30" y="198.5" width="0.60" height="2.9" fill="rgba(255,255,255,0.2)"/><rect x="492.80" y="198.5" width="0.40" height="2.9" fill="rgba(255,255,255,0.35)"/><rect x="494.05" y="198.5" width="0.40" height="2.9" fill="rgba(130,70,120,0.15)"/><rect x="497.80" y="198.5" width="0.40" height="2.9" fill="rgba(255,255,255,0.2)"/><rect x="499.05" y="198.5" width="0.40" height="2.9" fill="rgba(255,255,255,0.35)"/><rect x="501.55" y="198.5" width="0.60" height="2.9" fill="rgba(255,255,255,0.35)"/><rect x="504.05" y="198.5" width="0.60" height="2.9" fill="rgba(130,70,120,0.15)"/><rect x="505.30" y="198.5" width="0.40" height="2.9" fill="rgba(255,255,255,0.35)"/><rect x="506.55" y="198.5" width="0.40" height="2.9" fill="rgba(130,70,120,0.15)"/><rect x="507.80" y="198.5" width="0.40" height="2.9" fill="rgba(255,255,255,0.35)"/><rect x="509.05" y="198.5" width="0.60" height="2.9" fill="rgba(255,255,255,0.2)"/><rect x="510.30" y="198.5" width="0.40" height="2.9" fill="rgba(255,255,255,0.2)"/><rect x="511.55" y="198.5" width="0.40" height="2.9" fill="rgba(255,255,255,0.35)"/><rect x="512.80" y="198.5" width="0.60" height="2.9" fill="rgba(255,255,255,0.2)"/><rect x="514.05" y="198.5" width="0.60" height="2.9" fill="rgba(255,255,255,0.35)"/><rect x="516.55" y="198.5" width="0.60" height="2.9" fill="rgba(255,255,255,0.35)"/><rect x="517.80" y="198.5" width="0.60" height="2.9" fill="rgba(255,255,255,0.2)"/><rect x="519.05" y="198.5" width="0.60" height="2.9" fill="rgba(255,255,255,0.35)"/><rect x="521.55" y="198.5" width="0.40" height="2.9" fill="rgba(255,255,255,0.2)"/><rect x="522.80" y="198.5" width="0.40" height="2.9" fill="rgba(255,255,255,0.2)"/><rect x="524.05" y="198.5" width="0.60" height="2.9" fill="rgba(255,255,255,0.35)"/><rect x="526.55" y="198.5" width="0.40" height="2.9" fill="rgba(255,255,255,0.2)"/><rect x="527.80" y="198.5" width="0.40" height="2.9" fill="rgba(255,255,255,0.2)"/><rect x="530.30" y="198.5" width="0.40" height="2.9" fill="rgba(235,60,80,0.25)"/><rect x="531.55" y="198.5" width="0.40" height="2.9" fill="rgba(235,60,80,0.50)"/><rect x="534.05" y="198.5" width="0.40" height="2.9" fill="rgba(235,60,80,0.40)"/><rect x="535.30" y="198.5" width="0.40" height="2.9" fill="rgba(235,60,80,0.50)"/><rect x="536.55" y="198.5" width="0.40" height="2.9" fill="rgba(235,60,80,0.50)"/><rect x="537.80" y="198.5" width="0.60" height="2.9" fill="rgba(235,60,80,0.40)"/><rect x="542.80" y="198.5" width="0.60" height="2.9" fill="rgba(235,60,80,0.25)"/><rect x="544.05" y="198.5" width="0.60" height="2.9" fill="rgba(235,60,80,0.50)"/><rect x="547.80" y="198.5" width="0.40" height="2.9" fill="rgba(235,60,80,0.25)"/><rect x="549.05" y="198.5" width="0.60" height="2.9" fill="rgba(235,60,80,0.25)"/><rect x="550.30" y="198.5" width="0.40" height="2.9" fill="rgba(235,60,80,0.25)"/><rect x="551.55" y="198.5" width="0.60" height="2.9" fill="rgba(235,60,80,0.40)"/><rect x="552.80" y="198.5" width="0.60" height="2.9" fill="rgba(235,60,80,0.50)"/><rect x="554.05" y="198.5" width="0.60" height="2.9" fill="rgba(235,60,80,0.50)"/><rect x="555.30" y="198.5" width="0.60" height="2.9" fill="rgba(235,60,80,0.40)"/><rect x="556.55" y="198.5" width="0.40" height="2.9" fill="rgba(235,60,80,0.40)"/><rect x="560.30" y="198.5" width="0.60" height="2.9" fill="rgba(235,60,80,0.25)"/><rect x="561.55" y="198.5" width="0.60" height="2.9" fill="rgba(235,60,80,0.25)"/><rect x="562.80" y="198.5" width="0.60" height="2.9" fill="rgba(235,60,80,0.25)"/><rect x="564.05" y="198.5" width="0.40" height="2.9" fill="rgba(235,60,80,0.40)"/><rect x="565.30" y="198.5" width="0.60" height="2.9" fill="rgba(235,60,80,0.50)"/><rect x="567.80" y="198.5" width="0.40" height="2.9" fill="rgba(235,60,80,0.50)"/><rect x="569.05" y="198.5" width="0.40" height="2.9" fill="rgba(235,60,80,0.25)"/><rect x="570.30" y="198.5" width="0.60" height="2.9" fill="rgba(235,60,80,0.40)"/><rect x="575.30" y="198.5" width="0.40" height="2.9" fill="rgba(235,60,80,0.40)"/><rect x="576.55" y="198.5" width="0.60" height="2.9" fill="rgba(235,60,80,0.50)"/><rect x="580.30" y="198.5" width="0.60" height="2.9" fill="rgba(235,60,80,0.40)"/><rect x="581.55" y="198.5" width="0.40" height="2.9" fill="rgba(235,60,80,0.50)"/><rect x="582.80" y="198.5" width="0.40" height="2.9" fill="rgba(235,60,80,0.40)"/><rect x="584.05" y="198.5" width="0.40" height="2.9" fill="rgba(235,60,80,0.25)"/><rect x="585.30" y="198.5" width="0.60" height="2.9" fill="rgba(235,60,80,0.50)"/><rect x="586.55" y="198.5" width="0.40" height="2.9" fill="rgba(235,60,80,0.40)"/><rect x="589.05" y="198.5" width="0.40" height="2.9" fill="rgba(235,60,80,0.25)"/><rect x="590.30" y="198.5" width="0.60" height="2.9" fill="rgba(235,60,80,0.40)"/><rect x="591.55" y="198.5" width="0.60" height="2.9" fill="rgba(235,60,80,0.25)"/><rect x="592.80" y="198.5" width="0.40" height="2.9" fill="rgba(235,60,80,0.50)"/><rect x="596.55" y="198.5" width="0.60" height="2.9" fill="rgba(235,60,80,0.25)"/><rect x="597.80" y="198.5" width="0.60" height="2.9" fill="rgba(235,60,80,0.50)"/><rect x="599.05" y="198.5" width="0.60" height="2.9" fill="rgba(235,60,80,0.50)"/><rect x="600.30" y="198.5" width="0.40" height="2.9" fill="rgba(235,60,80,0.25)"/><rect x="601.55" y="198.5" width="0.60" height="2.9" fill="rgba(235,60,80,0.25)"/><rect x="604.05" y="198.5" width="0.40" height="2.9" fill="rgba(235,60,80,0.40)"/><rect x="605.30" y="198.5" width="0.40" height="2.9" fill="rgba(235,60,80,0.25)"/><rect x="606.55" y="198.5" width="0.60" height="2.9" fill="rgba(235,60,80,0.25)"/><rect x="609.05" y="198.5" width="0.40" height="2.9" fill="rgba(235,60,80,0.40)"/><rect x="612.80" y="198.5" width="0.40" height="2.9" fill="rgba(235,60,80,0.40)"/><rect x="614.05" y="198.5" width="0.40" height="2.9" fill="rgba(235,60,80,0.25)"/><rect x="616.55" y="198.5" width="0.60" height="2.9" fill="rgba(235,60,80,0.25)"/><rect x="617.80" y="198.5" width="0.40" height="2.9" fill="rgba(235,60,80,0.50)"/><rect x="619.05" y="198.5" width="0.60" height="2.9" fill="rgba(235,60,80,0.50)"/><rect x="620.30" y="198.5" width="0.60" height="2.9" fill="rgba(235,60,80,0.40)"/><rect x="621.55" y="198.5" width="0.60" height="2.9" fill="rgba(235,60,80,0.25)"/><rect x="622.80" y="198.5" width="0.40" height="2.9" fill="rgba(235,60,80,0.50)"/><rect x="626.55" y="198.5" width="0.40" height="2.9" fill="rgba(235,60,80,0.40)"/><rect x="627.80" y="198.5" width="0.40" height="2.9" fill="rgba(235,60,80,0.25)"/><rect x="629.05" y="198.5" width="0.60" height="2.9" fill="rgba(235,60,80,0.40)"/><rect x="630.30" y="198.5" width="0.60" height="2.9" fill="rgba(235,60,80,0.25)"/><rect x="631.55" y="198.5" width="0.40" height="2.9" fill="rgba(235,60,80,0.25)"/><rect x="632.80" y="198.5" width="0.60" height="2.9" fill="rgba(235,60,80,0.40)"/><rect x="634.05" y="198.5" width="0.60" height="2.9" fill="rgba(235,60,80,0.40)"/><rect x="635.30" y="198.5" width="0.60" height="2.9" fill="rgba(235,60,80,0.25)"/><rect x="639.05" y="198.5" width="0.60" height="2.9" fill="rgba(235,60,80,0.25)"/><rect x="640.30" y="198.5" width="0.60" height="2.9" fill="rgba(235,60,80,0.40)"/><rect x="641.55" y="198.5" width="0.60" height="2.9" fill="rgba(235,60,80,0.25)"/><rect x="644.05" y="198.5" width="0.60" height="2.9" fill="rgba(235,60,80,0.25)"/><rect x="645.30" y="198.5" width="0.60" height="2.9" fill="rgba(235,60,80,0.40)"/><rect x="647.80" y="198.5" width="0.40" height="2.9" fill="rgba(235,60,80,0.25)"/><rect x="649.05" y="198.5" width="0.40" height="2.9" fill="rgba(235,60,80,0.40)"/><rect x="650.30" y="198.5" width="0.40" height="2.9" fill="rgba(235,60,80,0.40)"/><rect x="651.55" y="198.5" width="0.40" height="2.9" fill="rgba(235,60,80,0.40)"/><rect x="652.80" y="198.5" width="0.40" height="2.9" fill="rgba(235,60,80,0.25)"/><rect x="654.05" y="198.5" width="0.60" height="2.9" fill="rgba(235,60,80,0.25)"/><rect x="655.30" y="198.5" width="0.60" height="2.9" fill="rgba(235,60,80,0.25)"/><rect x="656.55" y="198.5" width="0.60" height="2.9" fill="rgba(235,60,80,0.50)"/><rect x="657.80" y="198.5" width="0.40" height="2.9" fill="rgba(235,60,80,0.50)"/><rect x="659.05" y="198.5" width="0.60" height="2.9" fill="rgba(235,60,80,0.25)"/><rect x="660.30" y="198.5" width="0.60" height="2.9" fill="rgba(235,60,80,0.25)"/><rect x="661.55" y="198.5" width="0.40" height="2.9" fill="rgba(235,60,80,0.25)"/><rect x="662.80" y="198.5" width="0.40" height="2.9" fill="rgba(235,60,80,0.50)"/><rect x="664.05" y="198.5" width="0.40" height="2.9" fill="rgba(235,60,80,0.25)"/><rect x="665.30" y="198.5" width="0.40" height="2.9" fill="rgba(235,60,80,0.50)"/><rect x="666.55" y="198.5" width="0.40" height="2.9" fill="rgba(235,60,80,0.50)"/><rect x="667.80" y="198.5" width="0.40" height="2.9" fill="rgba(235,60,80,0.40)"/><rect x="669.05" y="198.5" width="0.60" height="2.9" fill="rgba(235,60,80,0.40)"/><rect x="670.30" y="198.5" width="0.40" height="2.9" fill="rgba(235,60,80,0.40)"/><rect x="671.55" y="198.5" width="0.60" height="2.9" fill="rgba(235,60,80,0.50)"/><rect x="672.80" y="198.5" width="0.40" height="2.9" fill="rgba(235,60,80,0.40)"/><rect x="674.05" y="198.5" width="0.60" height="2.9" fill="rgba(235,60,80,0.50)"/><rect x="675.30" y="198.5" width="0.60" height="2.9" fill="rgba(235,60,80,0.40)"/><rect x="679.05" y="198.5" width="0.40" height="2.9" fill="rgba(235,60,80,0.25)"/><rect x="680.30" y="198.5" width="0.40" height="2.9" fill="rgba(235,60,80,0.40)"/><rect x="682.80" y="198.5" width="0.40" height="2.9" fill="rgba(235,60,80,0.50)"/><rect x="684.05" y="198.5" width="0.40" height="2.9" fill="rgba(235,60,80,0.25)"/><rect x="686.55" y="198.5" width="0.40" height="2.9" fill="rgba(235,60,80,0.50)"/><rect x="687.80" y="198.5" width="0.60" height="2.9" fill="rgba(235,60,80,0.50)"/><rect x="689.05" y="198.5" width="0.40" height="2.9" fill="rgba(235,60,80,0.25)"/><rect x="695.30" y="198.5" width="0.60" height="2.9" fill="rgba(235,60,80,0.40)"/><rect x="699.05" y="198.5" width="0.40" height="2.9" fill="rgba(235,60,80,0.50)"/><rect x="700.30" y="198.5" width="0.60" height="2.9" fill="rgba(235,60,80,0.40)"/><rect x="701.55" y="198.5" width="0.60" height="2.9" fill="rgba(235,60,80,0.50)"/><rect x="704.05" y="198.5" width="0.60" height="2.9" fill="rgba(235,60,80,0.40)"/><rect x="705.30" y="198.5" width="0.40" height="2.9" fill="rgba(235,60,80,0.40)"/><rect x="706.55" y="198.5" width="0.40" height="2.9" fill="rgba(235,60,80,0.25)"/><rect x="707.80" y="198.5" width="0.60" height="2.9" fill="rgba(235,60,80,0.25)"/><rect x="709.05" y="198.5" width="0.40" height="2.9" fill="rgba(235,60,80,0.40)"/><rect x="711.55" y="198.5" width="0.40" height="2.9" fill="rgba(235,60,80,0.50)"/><rect x="712.80" y="198.5" width="0.60" height="2.9" fill="rgba(235,60,80,0.40)"/><rect x="714.05" y="198.5" width="0.40" height="2.9" fill="rgba(235,60,80,0.50)"/><rect x="715.30" y="198.5" width="0.60" height="2.9" fill="rgba(235,60,80,0.50)"/><rect x="717.80" y="198.5" width="0.60" height="2.9" fill="rgba(235,60,80,0.40)"/><rect x="719.05" y="198.5" width="0.60" height="2.9" fill="rgba(235,60,80,0.40)"/><rect x="721.55" y="198.5" width="0.40" height="2.9" fill="rgba(235,60,80,0.25)"/><rect x="722.80" y="198.5" width="0.60" height="2.9" fill="rgba(235,60,80,0.50)"/><rect x="724.05" y="198.5" width="0.60" height="2.9" fill="rgba(235,60,80,0.50)"/><rect x="727.80" y="198.5" width="0.60" height="2.9" fill="rgba(235,60,80,0.40)"/><rect x="729.05" y="198.5" width="0.40" height="2.9" fill="rgba(235,60,80,0.40)"/><rect x="730.30" y="198.5" width="0.40" height="2.9" fill="rgba(235,60,80,0.25)"/><rect x="731.55" y="198.5" width="0.60" height="2.9" fill="rgba(235,60,80,0.25)"/><rect x="732.80" y="198.5" width="0.60" height="2.9" fill="rgba(235,60,80,0.50)"/><rect x="734.05" y="198.5" width="0.60" height="2.9" fill="rgba(235,60,80,0.40)"/><rect x="735.30" y="198.5" width="0.60" height="2.9" fill="rgba(235,60,80,0.25)"/><rect x="736.55" y="198.5" width="0.40" height="2.9" fill="rgba(235,60,80,0.40)"/><rect x="737.80" y="198.5" width="0.40" height="2.9" fill="rgba(235,60,80,0.25)"/><rect x="739.05" y="198.5" width="0.40" height="2.9" fill="rgba(235,60,80,0.25)"/><rect x="742.80" y="198.5" width="0.40" height="2.9" fill="rgba(235,60,80,0.40)"/><rect x="744.05" y="198.5" width="0.60" height="2.9" fill="rgba(235,60,80,0.50)"/><rect x="745.30" y="198.5" width="0.60" height="2.9" fill="rgba(235,60,80,0.50)"/><rect x="746.55" y="198.5" width="0.60" height="2.9" fill="rgba(235,60,80,0.50)"/><rect x="747.80" y="198.5" width="0.40" height="2.9" fill="rgba(235,60,80,0.25)"/><rect x="749.05" y="198.5" width="0.60" height="2.9" fill="rgba(235,60,80,0.25)"/><rect x="750.30" y="198.5" width="0.40" height="2.9" fill="rgba(235,60,80,0.25)"/><rect x="752.80" y="198.5" width="0.40" height="2.9" fill="rgba(235,60,80,0.50)"/><rect x="754.05" y="198.5" width="0.60" height="2.9" fill="rgba(235,60,80,0.25)"/><rect x="756.55" y="198.5" width="0.40" height="2.9" fill="rgba(235,60,80,0.40)"/><rect x="757.80" y="198.5" width="0.60" height="2.9" fill="rgba(235,60,80,0.25)"/><rect x="760.30" y="198.5" width="0.60" height="2.9" fill="rgba(235,60,80,0.40)"/><rect x="761.55" y="198.5" width="0.60" height="2.9" fill="rgba(235,60,80,0.50)"/><rect x="762.80" y="198.5" width="0.60" height="2.9" fill="rgba(235,60,80,0.25)"/><rect x="764.05" y="198.5" width="0.40" height="2.9" fill="rgba(235,60,80,0.25)"/><rect x="765.30" y="198.5" width="0.60" height="2.9" fill="rgba(235,60,80,0.50)"/><rect x="767.80" y="198.5" width="0.60" height="2.9" fill="rgba(235,60,80,0.50)"/><rect x="769.05" y="198.5" width="0.60" height="2.9" fill="rgba(235,60,80,0.50)"/><rect x="770.30" y="198.5" width="0.40" height="2.9" fill="rgba(235,60,80,0.25)"/><rect x="772.80" y="198.5" width="0.40" height="2.9" fill="rgba(235,60,80,0.40)"/><rect x="775.30" y="198.5" width="0.60" height="2.9" fill="rgba(235,60,80,0.25)"/><rect x="776.55" y="198.5" width="0.60" height="2.9" fill="rgba(235,60,80,0.40)"/><rect x="777.80" y="198.5" width="0.60" height="2.9" fill="rgba(235,60,80,0.40)"/><rect x="779.05" y="198.5" width="0.40" height="2.9" fill="rgba(235,60,80,0.50)"/><rect x="781.55" y="198.5" width="0.40" height="2.9" fill="rgba(235,60,80,0.50)"/><rect x="782.80" y="198.5" width="0.40" height="2.9" fill="rgba(235,60,80,0.40)"/><rect x="784.05" y="198.5" width="0.40" height="2.9" fill="rgba(235,60,80,0.50)"/><rect x="785.30" y="198.5" width="0.40" height="2.9" fill="rgba(235,60,80,0.25)"/><rect x="786.55" y="198.5" width="0.40" height="2.9" fill="rgba(235,60,80,0.25)"/><rect x="787.80" y="198.5" width="0.60" height="2.9" fill="rgba(235,60,80,0.25)"/><rect x="791.55" y="198.5" width="0.90" height="2.9" fill="rgba(35,38,46,0.25)"/><rect x="792.80" y="198.5" width="0.90" height="2.9" fill="rgba(35,38,46,0.25)"/><rect x="794.05" y="198.5" width="0.50" height="2.9" fill="rgba(35,38,46,0.25)"/><rect x="797.80" y="198.5" width="0.90" height="2.9" fill="rgba(35,38,46,0.55)"/><rect x="799.05" y="198.5" width="0.70" height="2.9" fill="rgba(35,38,46,0.55)"/><rect x="800.30" y="198.5" width="0.50" height="2.9" fill="rgba(35,38,46,0.25)"/><rect x="801.55" y="198.5" width="0.90" height="2.9" fill="rgba(35,38,46,0.25)"/><rect x="802.80" y="198.5" width="0.90" height="2.9" fill="rgba(35,38,46,0.55)"/><rect x="804.05" y="198.5" width="0.50" height="2.9" fill="rgba(35,38,46,0.25)"/><rect x="805.30" y="198.5" width="0.50" height="2.9" fill="rgba(35,38,46,0.55)"/><rect x="806.55" y="198.5" width="0.70" height="2.9" fill="rgba(35,38,46,0.40)"/><rect x="807.80" y="198.5" width="0.70" height="2.9" fill="rgba(35,38,46,0.40)"/><rect x="810.30" y="198.5" width="0.70" height="2.9" fill="rgba(35,38,46,0.40)"/><rect x="812.80" y="198.5" width="0.70" height="2.9" fill="rgba(35,38,46,0.40)"/><rect x="814.05" y="198.5" width="0.70" height="2.9" fill="rgba(35,38,46,0.25)"/><rect x="815.30" y="198.5" width="0.50" height="2.9" fill="rgba(35,38,46,0.55)"/><rect x="816.55" y="198.5" width="0.50" height="2.9" fill="rgba(35,38,46,0.55)"/><rect x="817.80" y="198.5" width="0.90" height="2.9" fill="rgba(35,38,46,0.25)"/><rect x="820.30" y="198.5" width="0.50" height="2.9" fill="rgba(35,38,46,0.40)"/><rect x="821.55" y="198.5" width="0.50" height="2.9" fill="rgba(35,38,46,0.55)"/><rect x="822.80" y="198.5" width="0.50" height="2.9" fill="rgba(35,38,46,0.25)"/><rect x="824.05" y="198.5" width="0.70" height="2.9" fill="rgba(35,38,46,0.25)"/><rect x="825.30" y="198.5" width="0.70" height="2.9" fill="rgba(35,38,46,0.25)"/><rect x="826.55" y="198.5" width="0.70" height="2.9" fill="rgba(35,38,46,0.55)"/><rect x="827.80" y="198.5" width="0.70" height="2.9" fill="rgba(35,38,46,0.25)"/><rect x="831.55" y="198.5" width="0.50" height="2.9" fill="rgba(35,38,46,0.25)"/><rect x="835.30" y="198.5" width="0.90" height="2.9" fill="rgba(35,38,46,0.55)"/><rect x="837.80" y="198.5" width="0.50" height="2.9" fill="rgba(35,38,46,0.40)"/><rect x="839.05" y="198.5" width="0.90" height="2.9" fill="rgba(35,38,46,0.40)"/><rect x="840.30" y="198.5" width="0.50" height="2.9" fill="rgba(35,38,46,0.55)"/><rect x="841.55" y="198.5" width="0.70" height="2.9" fill="rgba(35,38,46,0.40)"/><rect x="842.80" y="198.5" width="0.90" height="2.9" fill="rgba(35,38,46,0.55)"/><rect x="844.05" y="198.5" width="0.50" height="2.9" fill="rgba(35,38,46,0.55)"/><rect x="846.55" y="198.5" width="0.90" height="2.9" fill="rgba(35,38,46,0.55)"/><rect x="849.05" y="198.5" width="0.90" height="2.9" fill="rgba(35,38,46,0.40)"/><rect x="850.30" y="198.5" width="0.70" height="2.9" fill="rgba(35,38,46,0.25)"/><rect x="851.55" y="198.5" width="0.70" height="2.9" fill="rgba(35,38,46,0.55)"/><rect x="852.80" y="198.5" width="0.90" height="2.9" fill="rgba(35,38,46,0.40)"/><rect x="855.30" y="198.5" width="0.70" height="2.9" fill="rgba(35,38,46,0.25)"/><rect x="856.55" y="198.5" width="0.50" height="2.9" fill="rgba(35,38,46,0.55)"/><rect x="857.80" y="198.5" width="0.70" height="2.9" fill="rgba(35,38,46,0.40)"/><rect x="861.55" y="198.5" width="0.50" height="2.9" fill="rgba(35,38,46,0.55)"/><rect x="865.30" y="198.5" width="0.50" height="2.9" fill="rgba(35,38,46,0.40)"/><rect x="866.55" y="198.5" width="0.70" height="2.9" fill="rgba(35,38,46,0.25)"/><rect x="870.30" y="198.5" width="0.50" height="2.9" fill="rgba(35,38,46,0.55)"/><rect x="871.55" y="198.5" width="0.50" height="2.9" fill="rgba(35,38,46,0.25)"/><rect x="875.30" y="198.5" width="0.50" height="2.9" fill="rgba(35,38,46,0.25)"/><rect x="876.55" y="198.5" width="0.70" height="2.9" fill="rgba(35,38,46,0.25)"/><rect x="877.80" y="198.5" width="0.70" height="2.9" fill="rgba(35,38,46,0.40)"/><rect x="879.05" y="198.5" width="0.70" height="2.9" fill="rgba(35,38,46,0.40)"/><rect x="880.30" y="198.5" width="0.90" height="2.9" fill="rgba(35,38,46,0.55)"/><rect x="881.55" y="198.5" width="0.50" height="2.9" fill="rgba(35,38,46,0.25)"/><rect x="882.80" y="198.5" width="0.70" height="2.9" fill="rgba(35,38,46,0.55)"/><rect x="884.05" y="198.5" width="0.70" height="2.9" fill="rgba(35,38,46,0.25)"/><rect x="886.55" y="198.5" width="0.70" height="2.9" fill="rgba(35,38,46,0.55)"/><rect x="889.05" y="198.5" width="0.90" height="2.9" fill="rgba(35,38,46,0.55)"/><rect x="892.80" y="198.5" width="0.50" height="2.9" fill="rgba(35,38,46,0.55)"/><rect x="894.05" y="198.5" width="0.70" height="2.9" fill="rgba(35,38,46,0.40)"/><rect x="895.30" y="198.5" width="0.70" height="2.9" fill="rgba(35,38,46,0.25)"/><rect x="896.55" y="198.5" width="0.90" height="2.9" fill="rgba(35,38,46,0.40)"/><rect x="899.05" y="198.5" width="0.70" height="2.9" fill="rgba(35,38,46,0.40)"/><rect x="900.30" y="198.5" width="0.70" height="2.9" fill="rgba(35,38,46,0.55)"/><rect x="901.55" y="198.5" width="0.50" height="2.9" fill="rgba(35,38,46,0.55)"/><rect x="904.05" y="198.5" width="0.70" height="2.9" fill="rgba(35,38,46,0.25)"/><rect x="907.80" y="198.5" width="0.90" height="2.9" fill="rgba(35,38,46,0.40)"/><rect x="909.05" y="198.5" width="0.50" height="2.9" fill="rgba(35,38,46,0.55)"/><rect x="910.30" y="198.5" width="0.90" height="2.9" fill="rgba(35,38,46,0.25)"/><rect x="911.55" y="198.5" width="0.90" height="2.9" fill="rgba(35,38,46,0.25)"/><rect x="912.80" y="198.5" width="0.90" height="2.9" fill="rgba(35,38,46,0.25)"/><rect x="915.30" y="198.5" width="0.70" height="2.9" fill="rgba(35,38,46,0.40)"/><rect x="917.80" y="198.5" width="0.50" height="2.9" fill="rgba(35,38,46,0.55)"/><rect x="919.05" y="198.5" width="0.90" height="2.9" fill="rgba(35,38,46,0.25)"/><rect x="921.55" y="198.5" width="0.70" height="2.9" fill="rgba(35,38,46,0.25)"/><rect x="922.80" y="198.5" width="0.50" height="2.9" fill="rgba(35,38,46,0.40)"/><rect x="924.05" y="198.5" width="0.70" height="2.9" fill="rgba(35,38,46,0.40)"/><rect x="925.30" y="198.5" width="0.70" height="2.9" fill="rgba(35,38,46,0.55)"/><rect x="926.55" y="198.5" width="0.50" height="2.9" fill="rgba(35,38,46,0.25)"/><rect x="927.80" y="198.5" width="0.90" height="2.9" fill="rgba(35,38,46,0.40)"/><rect x="932.80" y="198.5" width="0.50" height="2.9" fill="rgba(35,38,46,0.25)"/><rect x="935.30" y="198.5" width="0.50" height="2.9" fill="rgba(35,38,46,0.55)"/><rect x="936.55" y="198.5" width="0.90" height="2.9" fill="rgba(35,38,46,0.55)"/><rect x="937.80" y="198.5" width="0.70" height="2.9" fill="rgba(35,38,46,0.25)"/><rect x="939.05" y="198.5" width="0.70" height="2.9" fill="rgba(35,38,46,0.40)"/><rect x="942.80" y="198.5" width="0.70" height="2.9" fill="rgba(35,38,46,0.40)"/><rect x="945.30" y="198.5" width="0.70" height="2.9" fill="rgba(35,38,46,0.55)"/><rect x="946.55" y="198.5" width="0.90" height="2.9" fill="rgba(35,38,46,0.40)"/><rect x="947.80" y="198.5" width="0.90" height="2.9" fill="rgba(35,38,46,0.25)"/><rect x="950.30" y="198.5" width="0.70" height="2.9" fill="rgba(35,38,46,0.55)"/><rect x="951.55" y="198.5" width="0.70" height="2.9" fill="rgba(35,38,46,0.40)"/><rect x="952.80" y="198.5" width="0.90" height="2.9" fill="rgba(35,38,46,0.25)"/><rect x="955.30" y="198.5" width="0.70" height="2.9" fill="rgba(35,38,46,0.40)"/><rect x="956.55" y="198.5" width="0.70" height="2.9" fill="rgba(35,38,46,0.55)"/><rect x="959.05" y="198.5" width="0.90" height="2.9" fill="rgba(35,38,46,0.40)"/><rect x="960.30" y="198.5" width="0.50" height="2.9" fill="rgba(35,38,46,0.55)"/><rect x="961.55" y="198.5" width="0.90" height="2.9" fill="rgba(35,38,46,0.25)"/><rect x="962.80" y="198.5" width="0.50" height="2.9" fill="rgba(35,38,46,0.55)"/><rect x="964.05" y="198.5" width="0.50" height="2.9" fill="rgba(35,38,46,0.25)"/><rect x="966.55" y="198.5" width="0.50" height="2.9" fill="rgba(35,38,46,0.25)"/><rect x="970.30" y="198.5" width="0.90" height="2.9" fill="rgba(35,38,46,0.55)"/>
<path d="M103.9 201.4v3M166.4 201.4v3M228.9 201.4v3M291.4 201.4v3M353.9 201.4v3M416.4 201.4v3M478.9 201.4v3M541.4 201.4v3M603.9 201.4v3M666.4 201.4v3M728.9 201.4v3M791.4 201.4v3M853.9 201.4v3M916.4 201.4v3" stroke="#ccd6eb" stroke-width="0.5" fill="none"/>
<line x1="102.8" x2="972.4" y1="197.6" y2="197.6" stroke="#92bef5" stroke-width="1.0"/>
<g font-size="4.45" fill="#5a5a5a" text-anchor="end" letter-spacing="-0.05">
<text x="96.9" y="83.200">100</text><text x="96.9" y="106.500">80</text><text x="96.9" y="129.700">60</text><text x="96.9" y="152.900">40</text><text x="96.9" y="176.100">20</text><text x="96.9" y="199.300">0</text>
</g>
<g font-size="4.45" fill="#5a5a5a" text-anchor="middle" letter-spacing="-0.05">
<text x="103.9" y="208.8">300</text><text x="166.4" y="208.8">350</text><text x="228.9" y="208.8">400</text><text x="291.4" y="208.8">450</text><text x="353.9" y="208.8">500</text><text x="416.4" y="208.8">550</text><text x="478.9" y="208.8">600</text><text x="541.4" y="208.8">650</text><text x="603.9" y="208.8">700</text><text x="666.4" y="208.8">750</text><text x="728.9" y="208.8">800</text><text x="791.4" y="208.8">850</text><text x="853.9" y="208.8">900</text><text x="916.4" y="208.8">950</text>
</g>
<text x="538" y="216.8" font-size="4.98" fill="#555" text-anchor="middle">Wavelength (nm)</text>
<text transform="translate(84.7 141.4) rotate(-90)" font-size="5.1" fill="#555" text-anchor="middle">% Excitation/Emission</text>
<g font-size="4.200" font-weight="bold" fill="#222" text-anchor="middle">
<text x="173.400" y="80.900">355</text><text x="235.900" y="80.900">405</text><text x="339.600" y="80.900">488</text><text x="430.900" y="80.900">561</text><text x="529.600" y="80.900">640</text>
</g>
<g stroke="#444" stroke-width="0.8"><path d="M964.8 84.4h6.5M964.8 86.45h6.5M964.8 88.5h6.5"/></g>
</svg>

<div class="box" style="left:74px;top:231px;width:292.5px;height:12.6px"></div>
<div class="t tx" style="transform-origin:0 50%;transform:scaleX(0.908);left:78.4px;top:235.1px;font-size:5.2px;color:#333">BD LSR2 Fortessa X-20 (5 Laser)</div>
<div class="t" style="left:361px;top:236.2px;font-size:3px;color:#888">&#9660;</div>
<div class="box" style="left:74px;top:249.9px;width:292.5px;height:11.9px"></div>
<div class="t tx" style="transform-origin:0 50%;transform:scaleX(0.916);left:78.4px;top:253.4px;font-size:5.2px;color:#999">Add Fluorophore</div>
<div class="t" style="left:361px;top:254.4px;font-size:3px;color:#888">&#9660;</div>
<div class="t hd" style="transform-origin:0 50%;transform:scaleX(0.770);left:76.9px;top:267.9px;font-size:4.8px">Fluorophores</div>
<svg class="abs" style="left:223.6px;top:267.0px" width="4.6" height="4.6" viewBox="0 0 4.6 4.6"><rect x="0.1" y="0.1" width="4.4" height="4.4" rx="0.8" fill="#3683f1"/><path d="M1.05 2.35l0.9 0.9 1.6-1.85" fill="none" stroke="#fff" stroke-width="0.7"/></svg><div class="t hd" style="transform-origin:0 50%;transform:scaleX(0.868);left:229.2px;top:269.3px;font-size:4.3px">Ex.</div>
<svg class="abs" style="left:288.4px;top:267.0px" width="4.6" height="4.6" viewBox="0 0 4.6 4.6"><rect x="0.1" y="0.1" width="4.4" height="4.4" rx="0.8" fill="#3683f1"/><path d="M1.05 2.35l0.9 0.9 1.6-1.85" fill="none" stroke="#fff" stroke-width="0.7"/></svg><div class="t hd" style="transform-origin:0 50%;transform:scaleX(0.862);left:294.0px;top:269.3px;font-size:4.3px">Em.</div>
<div class="ln" style="left:74px;top:276.5px;width:292.5px"></div>
<div class="t tx" style="transform-origin:0 50%;transform:scaleX(0.854);left:76.9px;top:280.6px;"><span class="u" style="border-color:#e9969b">APC-Alexa 750</span></div>
<svg class="abs" style="left:223.6px;top:280.2px" width="4.6" height="4.6" viewBox="0 0 4.6 4.6"><rect x="0.1" y="0.1" width="4.4" height="4.4" rx="0.8" fill="#3683f1"/><path d="M1.05 2.35l0.9 0.9 1.6-1.85" fill="none" stroke="#fff" stroke-width="0.7"/></svg>
<svg class="abs" style="left:288.4px;top:280.2px" width="4.6" height="4.6" viewBox="0 0 4.6 4.6"><rect x="0.1" y="0.1" width="4.4" height="4.4" rx="0.8" fill="#3683f1"/><path d="M1.05 2.35l0.9 0.9 1.6-1.85" fill="none" stroke="#fff" stroke-width="0.7"/></svg>
<svg class="abs" style="left:355.1px;top:281.3px" width="4" height="4" viewBox="0 0 4 4"><path d="M0.7 0.7L3.3 3.3M3.3 0.7L0.7 3.3" stroke="#222" stroke-width="1.05" fill="none"/></svg>
<div class="ln" style="left:74px;top:289.9px;width:292.5px"></div>
<div class="t tx" style="transform-origin:0 50%;transform:scaleX(0.876);left:76.9px;top:294.1px;"><span class="u" style="border-color:#8fe6ef">ATTO 425 Phalloidin</span></div>
<svg class="abs" style="left:223.6px;top:293.7px" width="4.6" height="4.6" viewBox="0 0 4.6 4.6"><rect x="0.1" y="0.1" width="4.4" height="4.4" rx="0.8" fill="#3683f1"/><path d="M1.05 2.35l0.9 0.9 1.6-1.85" fill="none" stroke="#fff" stroke-width="0.7"/></svg>
<svg class="abs" style="left:288.4px;top:293.7px" width="4.6" height="4.6" viewBox="0 0 4.6 4.6"><rect x="0.1" y="0.1" width="4.4" height="4.4" rx="0.8" fill="#3683f1"/><path d="M1.05 2.35l0.9 0.9 1.6-1.85" fill="none" stroke="#fff" stroke-width="0.7"/></svg>
<svg class="abs" style="left:355.1px;top:294.8px" width="4" height="4" viewBox="0 0 4 4"><path d="M0.7 0.7L3.3 3.3M3.3 0.7L0.7 3.3" stroke="#222" stroke-width="1.05" fill="none"/></svg>
<div class="ln" style="left:74px;top:303.1px;width:292.5px"></div>
<div class="t tx" style="transform-origin:0 50%;transform:scaleX(0.895);left:76.9px;top:306.9px;">Agarose</div>
<svg class="abs" style="left:223.6px;top:306.5px" width="4.6" height="4.6" viewBox="0 0 4.6 4.6"><rect x="0.1" y="0.1" width="4.4" height="4.4" rx="0.8" fill="#3683f1"/><path d="M1.05 2.35l0.9 0.9 1.6-1.85" fill="none" stroke="#fff" stroke-width="0.7"/></svg>
<svg class="abs" style="left:288.4px;top:306.5px" width="4.6" height="4.6" viewBox="0 0 4.6 4.6"><rect x="0.1" y="0.1" width="4.4" height="4.4" rx="0.8" fill="#3683f1"/><path d="M1.05 2.35l0.9 0.9 1.6-1.85" fill="none" stroke="#fff" stroke-width="0.7"/></svg>
<svg class="abs" style="left:355.1px;top:307.6px" width="4" height="4" viewBox="0 0 4 4"><path d="M0.7 0.7L3.3 3.3M3.3 0.7L0.7 3.3" stroke="#222" stroke-width="1.05" fill="none"/></svg>
<div class="ln" style="left:74px;top:316.2px;width:292.5px"></div>
<div class="t tx" style="transform-origin:0 50%;transform:scaleX(0.874);left:76.9px;top:320.0px;"><span class="u" style="border-color:#fbb88e">Alexa 594 NanoGold</span></div>
<svg class="abs" style="left:223.6px;top:319.6px" width="4.6" height="4.6" viewBox="0 0 4.6 4.6"><rect x="0.1" y="0.1" width="4.4" height="4.4" rx="0.8" fill="#3683f1"/><path d="M1.05 2.35l0.9 0.9 1.6-1.85" fill="none" stroke="#fff" stroke-width="0.7"/></svg>
<svg class="abs" style="left:288.4px;top:319.6px" width="4.6" height="4.6" viewBox="0 0 4.6 4.6"><rect x="0.1" y="0.1" width="4.4" height="4.4" rx="0.8" fill="#3683f1"/><path d="M1.05 2.35l0.9 0.9 1.6-1.85" fill="none" stroke="#fff" stroke-width="0.7"/></svg>
<svg class="abs" style="left:355.1px;top:320.7px" width="4" height="4" viewBox="0 0 4 4"><path d="M0.7 0.7L3.3 3.3M3.3 0.7L0.7 3.3" stroke="#222" stroke-width="1.05" fill="none"/></svg>
<div class="ln" style="left:74px;top:329.3px;width:292.5px"></div>
<div class="t tx" style="transform-origin:0 50%;transform:scaleX(0.872);left:76.9px;top:333.2px;"><span class="u" style="border-color:#e9ef7a">Alexa Fluor 555</span></div>
<svg class="abs" style="left:223.6px;top:332.8px" width="4.6" height="4.6" viewBox="0 0 4.6 4.6"><rect x="0.1" y="0.1" width="4.4" height="4.4" rx="0.8" fill="#3683f1"/><path d="M1.05 2.35l0.9 0.9 1.6-1.85" fill="none" stroke="#fff" stroke-width="0.7"/></svg>
<svg class="abs" style="left:288.4px;top:332.8px" width="4.6" height="4.6" viewBox="0 0 4.6 4.6"><rect x="0.1" y="0.1" width="4.4" height="4.4" rx="0.8" fill="#3683f1"/><path d="M1.05 2.35l0.9 0.9 1.6-1.85" fill="none" stroke="#fff" stroke-width="0.7"/></svg>
<svg class="abs" style="left:355.1px;top:333.9px" width="4" height="4" viewBox="0 0 4 4"><path d="M0.7 0.7L3.3 3.3M3.3 0.7L0.7 3.3" stroke="#222" stroke-width="1.05" fill="none"/></svg>
<div class="ln" style="left:74px;top:343.1px;width:292.5px"></div>
<div class="t tx" style="transform-origin:0 50%;transform:scaleX(0.886);left:76.9px;top:346.6px;"><span class="u" style="border-color:#8b80ec">DyLight 405</span></div>
<svg class="abs" style="left:223.6px;top:346.2px" width="4.6" height="4.6" viewBox="0 0 4.6 4.6"><rect x="0.1" y="0.1" width="4.4" height="4.4" rx="0.8" fill="#3683f1"/><path d="M1.05 2.35l0.9 0.9 1.6-1.85" fill="none" stroke="#fff" stroke-width="0.7"/></svg>
<svg class="abs" style="left:288.4px;top:346.2px" width="4.6" height="4.6" viewBox="0 0 4.6 4.6"><rect x="0.1" y="0.1" width="4.4" height="4.4" rx="0.8" fill="#3683f1"/><path d="M1.05 2.35l0.9 0.9 1.6-1.85" fill="none" stroke="#fff" stroke-width="0.7"/></svg>
<svg class="abs" style="left:355.1px;top:347.3px" width="4" height="4" viewBox="0 0 4 4"><path d="M0.7 0.7L3.3 3.3M3.3 0.7L0.7 3.3" stroke="#222" stroke-width="1.05" fill="none"/></svg>
<div class="ln" style="left:74px;top:356.2px;width:292.5px"></div>
<div class="t tx" style="transform-origin:0 50%;transform:scaleX(0.879);left:76.9px;top:359.8px;"><span class="u" style="border-color:#80b6f4">DY-360XL Phalloidin</span></div>
<svg class="abs" style="left:223.6px;top:359.4px" width="4.6" height="4.6" viewBox="0 0 4.6 4.6"><rect x="0.1" y="0.1" width="4.4" height="4.4" rx="0.8" fill="#3683f1"/><path d="M1.05 2.35l0.9 0.9 1.6-1.85" fill="none" stroke="#fff" stroke-width="0.7"/></svg>
<svg class="abs" style="left:288.4px;top:359.4px" width="4.6" height="4.6" viewBox="0 0 4.6 4.6"><rect x="0.1" y="0.1" width="4.4" height="4.4" rx="0.8" fill="#3683f1"/><path d="M1.05 2.35l0.9 0.9 1.6-1.85" fill="none" stroke="#fff" stroke-width="0.7"/></svg>
<svg class="abs" style="left:355.1px;top:360.5px" width="4" height="4" viewBox="0 0 4 4"><path d="M0.7 0.7L3.3 3.3M3.3 0.7L0.7 3.3" stroke="#222" stroke-width="1.05" fill="none"/></svg>
<svg class="abs" style="left:379.0px;top:233.5px" width="5" height="5" viewBox="0 0 5 5"><circle cx="2.5" cy="2.5" r="2.05" fill="#fff" stroke="#2f7cf0" stroke-width="0.55"/><circle cx="2.5" cy="2.5" r="1.25" fill="#2f7cf0"/></svg><div class="t tx" style="transform-origin:0 50%;transform:scaleX(0.897);left:385.6px;top:236.0px;font-size:4.6px">Combined Lasers</div>
<svg class="abs" style="left:422.1px;top:233.7px" width="5" height="5" viewBox="0 0 5 5"><circle cx="2.5" cy="2.5" r="2.05" fill="#fff" stroke="#808080" stroke-width="0.5"/></svg><div class="t tx" style="transform-origin:0 50%;transform:scaleX(0.897);left:430.0px;top:236.0px;font-size:4.6px">Multi-Laser</div>
<div class="box" style="left:379.4px;top:249.8px;width:291.5px;height:12px"></div>
<div class="t tx" style="transform-origin:0 50%;transform:scaleX(0.922);left:383.1px;top:253.5px;font-size:5.2px;color:#999">Add Laser nm (###)</div>
<div class="t hd" style="transform-origin:0 50%;transform:scaleX(0.808);left:381.9px;top:268.4px;font-size:4.8px">Lasers</div>
<svg class="abs" style="left:454.7px;top:266.8px" width="5" height="5" viewBox="0 0 5 5"><circle cx="2.5" cy="2.5" r="2.05" fill="#fff" stroke="#2f7cf0" stroke-width="0.55"/><circle cx="2.5" cy="2.5" r="1.25" fill="#2f7cf0"/></svg><div class="t tx" style="transform-origin:0 50%;transform:scaleX(0.973);left:461.6px;top:268.8px;font-size:4.3px;font-weight:bold">100%</div>
<div class="ln" style="left:379.4px;top:276.5px;width:291.5px"></div>
<div class="t tx" style="transform-origin:0 50%;transform:scaleX(0.942);left:381.9px;top:281.0px;font-size:4.4px">355</div>
<svg class="abs" style="left:454.7px;top:280.1px" width="5" height="5" viewBox="0 0 5 5"><circle cx="2.5" cy="2.5" r="2.05" fill="#fff" stroke="#808080" stroke-width="0.5"/></svg>
<div class="t tx" style="transform-origin:0 50%;transform:scaleX(0.972);left:461.6px;top:281.5px;font-size:4.3px">Normalize</div>
<svg class="abs" style="left:664.5px;top:280.1px" width="4" height="4" viewBox="0 0 4 4"><path d="M0.7 0.7L3.3 3.3M3.3 0.7L0.7 3.3" stroke="#222" stroke-width="1.05" fill="none"/></svg>
<div class="ln" style="left:379.4px;top:289.9px;width:291.5px"></div>
<div class="t tx" style="transform-origin:0 50%;transform:scaleX(0.942);left:381.9px;top:294.5px;font-size:4.4px">405</div>
<svg class="abs" style="left:454.7px;top:293.6px" width="5" height="5" viewBox="0 0 5 5"><circle cx="2.5" cy="2.5" r="2.05" fill="#fff" stroke="#808080" stroke-width="0.5"/></svg>
<div class="t tx" style="transform-origin:0 50%;transform:scaleX(0.972);left:461.6px;top:295.0px;font-size:4.3px">Normalize</div>
<svg class="abs" style="left:664.5px;top:293.6px" width="4" height="4" viewBox="0 0 4 4"><path d="M0.7 0.7L3.3 3.3M3.3 0.7L0.7 3.3" stroke="#222" stroke-width="1.05" fill="none"/></svg>
<div class="ln" style="left:379.4px;top:303.1px;width:291.5px"></div>
<div class="t tx" style="transform-origin:0 50%;transform:scaleX(0.942);left:381.9px;top:307.3px;font-size:4.4px">488</div>
<svg class="abs" style="left:454.7px;top:306.4px" width="5" height="5" viewBox="0 0 5 5"><circle cx="2.5" cy="2.5" r="2.05" fill="#fff" stroke="#808080" stroke-width="0.5"/></svg>
<div class="t tx" style="transform-origin:0 50%;transform:scaleX(0.972);left:461.6px;top:307.8px;font-size:4.3px">Normalize</div>
<svg class="abs" style="left:664.5px;top:306.4px" width="4" height="4" viewBox="0 0 4 4"><path d="M0.7 0.7L3.3 3.3M3.3 0.7L0.7 3.3" stroke="#222" stroke-width="1.05" fill="none"/></svg>
<div class="ln" style="left:379.4px;top:316.2px;width:291.5px"></div>
<div class="t tx" style="transform-origin:0 50%;transform:scaleX(0.942);left:381.9px;top:320.4px;font-size:4.4px">561</div>
<svg class="abs" style="left:454.7px;top:319.5px" width="5" height="5" viewBox="0 0 5 5"><circle cx="2.5" cy="2.5" r="2.05" fill="#fff" stroke="#808080" stroke-width="0.5"/></svg>
<div class="t tx" style="transform-origin:0 50%;transform:scaleX(0.972);left:461.6px;top:320.9px;font-size:4.3px">Normalize</div>
<svg class="abs" style="left:664.5px;top:319.5px" width="4" height="4" viewBox="0 0 4 4"><path d="M0.7 0.7L3.3 3.3M3.3 0.7L0.7 3.3" stroke="#222" stroke-width="1.05" fill="none"/></svg>
<div class="ln" style="left:379.4px;top:329.3px;width:291.5px"></div>
<div class="t tx" style="transform-origin:0 50%;transform:scaleX(0.942);left:381.9px;top:333.6px;font-size:4.4px">640</div>
<svg class="abs" style="left:454.7px;top:332.7px" width="5" height="5" viewBox="0 0 5 5"><circle cx="2.5" cy="2.5" r="2.05" fill="#fff" stroke="#808080" stroke-width="0.5"/></svg>
<div class="t tx" style="transform-origin:0 50%;transform:scaleX(0.972);left:461.6px;top:334.1px;font-size:4.3px">Normalize</div>
<svg class="abs" style="left:664.5px;top:332.7px" width="4" height="4" viewBox="0 0 4 4"><path d="M0.7 0.7L3.3 3.3M3.3 0.7L0.7 3.3" stroke="#222" stroke-width="1.05" fill="none"/></svg>
<div class="t tx" style="transform-origin:0 50%;transform:scaleX(0.941);left:683.8px;top:236.1px;font-size:4.9px;color:#2c5fa5">Remove all lasers and filters</div>
<div class="box" style="left:683.8px;top:249.9px;width:28.2px;height:11.7px"></div>
<div class="t tx" style="left:688.0px;top:254.3px;font-size:4.8px;color:#999">__/__</div>
<div class="t tx" style="transform-origin:0 50%;transform:scaleX(0.874);left:686.9px;top:266.3px;font-size:4.5px">Em. Filters</div>
<svg class="abs" style="left:759.8px;top:265.2px" width="4.8" height="4.8" viewBox="0 0 4.8 4.8"><rect x="0.4" y="0.4" width="4" height="4" rx="0.7" fill="#fff" stroke="#8c8c8c" stroke-width="0.5"/></svg><div class="t tx" style="transform-origin:0 50%;transform:scaleX(0.870);left:765.7px;top:267.0px;font-size:4.6px;color:#222">Show</div>
<div class="ln" style="left:683.8px;top:274.3px;width:292.2px"></div>
<div class="t tx" style="transform-origin:0 50%;transform:scaleX(0.930);left:686.9px;top:278.6px;font-size:4.4px">379/28</div>
<svg class="abs" style="left:759.8px;top:278.1px" width="4.8" height="4.8" viewBox="0 0 4.8 4.8"><rect x="0.4" y="0.4" width="4" height="4" rx="0.7" fill="#fff" stroke="#8c8c8c" stroke-width="0.5"/></svg>
<svg class="abs" style="left:968.0px;top:278.2px" width="4" height="4" viewBox="0 0 4 4"><path d="M0.7 0.7L3.3 3.3M3.3 0.7L0.7 3.3" stroke="#222" stroke-width="1.05" fill="none"/></svg>
<div class="ln" style="left:683.8px;top:287.4px;width:292.2px"></div>
<div class="t tx" style="transform-origin:0 50%;transform:scaleX(0.930);left:686.9px;top:291.7px;font-size:4.4px">740/35</div>
<svg class="abs" style="left:759.8px;top:291.2px" width="4.8" height="4.8" viewBox="0 0 4.8 4.8"><rect x="0.4" y="0.4" width="4" height="4" rx="0.7" fill="#fff" stroke="#8c8c8c" stroke-width="0.5"/></svg>
<svg class="abs" style="left:968.0px;top:291.3px" width="4" height="4" viewBox="0 0 4 4"><path d="M0.7 0.7L3.3 3.3M3.3 0.7L0.7 3.3" stroke="#222" stroke-width="1.05" fill="none"/></svg>
<div class="ln" style="left:683.8px;top:300.5px;width:292.2px"></div>
<div class="t tx" style="transform-origin:0 50%;transform:scaleX(0.930);left:686.9px;top:304.8px;font-size:4.4px">450/50</div>
<svg class="abs" style="left:759.8px;top:304.3px" width="4.8" height="4.8" viewBox="0 0 4.8 4.8"><rect x="0.4" y="0.4" width="4" height="4" rx="0.7" fill="#fff" stroke="#8c8c8c" stroke-width="0.5"/></svg>
<svg class="abs" style="left:968.0px;top:304.4px" width="4" height="4" viewBox="0 0 4 4"><path d="M0.7 0.7L3.3 3.3M3.3 0.7L0.7 3.3" stroke="#222" stroke-width="1.05" fill="none"/></svg>
<div class="ln" style="left:683.8px;top:313.6px;width:292.2px"></div>
<div class="t tx" style="transform-origin:0 50%;transform:scaleX(0.930);left:686.9px;top:317.9px;font-size:4.4px">525/50</div>
<svg class="abs" style="left:759.8px;top:317.4px" width="4.8" height="4.8" viewBox="0 0 4.8 4.8"><rect x="0.4" y="0.4" width="4" height="4" rx="0.7" fill="#fff" stroke="#8c8c8c" stroke-width="0.5"/></svg>
<svg class="abs" style="left:968.0px;top:317.5px" width="4" height="4" viewBox="0 0 4 4"><path d="M0.7 0.7L3.3 3.3M3.3 0.7L0.7 3.3" stroke="#222" stroke-width="1.05" fill="none"/></svg>
<div class="ln" style="left:683.8px;top:326.7px;width:292.2px"></div>
<div class="t tx" style="transform-origin:0 50%;transform:scaleX(0.930);left:686.9px;top:331.0px;font-size:4.4px">610/20</div>
<svg class="abs" style="left:759.8px;top:330.5px" width="4.8" height="4.8" viewBox="0 0 4.8 4.8"><rect x="0.4" y="0.4" width="4" height="4" rx="0.7" fill="#fff" stroke="#8c8c8c" stroke-width="0.5"/></svg>
<svg class="abs" style="left:968.0px;top:330.6px" width="4" height="4" viewBox="0 0 4 4"><path d="M0.7 0.7L3.3 3.3M3.3 0.7L0.7 3.3" stroke="#222" stroke-width="1.05" fill="none"/></svg>
<div class="ln" style="left:683.8px;top:339.9px;width:292.2px"></div>
<div class="t tx" style="transform-origin:0 50%;transform:scaleX(0.930);left:686.9px;top:344.2px;font-size:4.4px">670/30</div>
<svg class="abs" style="left:759.8px;top:343.7px" width="4.8" height="4.8" viewBox="0 0 4.8 4.8"><rect x="0.4" y="0.4" width="4" height="4" rx="0.7" fill="#fff" stroke="#8c8c8c" stroke-width="0.5"/></svg>
<svg class="abs" style="left:968.0px;top:343.8px" width="4" height="4" viewBox="0 0 4 4"><path d="M0.7 0.7L3.3 3.3M3.3 0.7L0.7 3.3" stroke="#222" stroke-width="1.05" fill="none"/></svg>
<div class="ln" style="left:683.8px;top:353.0px;width:292.2px"></div>
<div class="t tx" style="transform-origin:0 50%;transform:scaleX(0.930);left:686.9px;top:357.3px;font-size:4.4px">710/50</div>
<svg class="abs" style="left:759.8px;top:356.8px" width="4.8" height="4.8" viewBox="0 0 4.8 4.8"><rect x="0.4" y="0.4" width="4" height="4" rx="0.7" fill="#fff" stroke="#8c8c8c" stroke-width="0.5"/></svg>
<svg class="abs" style="left:968.0px;top:356.9px" width="4" height="4" viewBox="0 0 4 4"><path d="M0.7 0.7L3.3 3.3M3.3 0.7L0.7 3.3" stroke="#222" stroke-width="1.05" fill="none"/></svg>
<div class="ln" style="left:683.8px;top:366.1px;width:292.2px"></div>
<div class="t tx" style="transform-origin:0 50%;transform:scaleX(0.930);left:686.9px;top:370.4px;font-size:4.4px">780/60</div>
<svg class="abs" style="left:759.8px;top:369.9px" width="4.8" height="4.8" viewBox="0 0 4.8 4.8"><rect x="0.4" y="0.4" width="4" height="4" rx="0.7" fill="#fff" stroke="#8c8c8c" stroke-width="0.5"/></svg>
<svg class="abs" style="left:968.0px;top:370.0px" width="4" height="4" viewBox="0 0 4 4"><path d="M0.7 0.7L3.3 3.3M3.3 0.7L0.7 3.3" stroke="#222" stroke-width="1.05" fill="none"/></svg>
<div class="ln" style="left:683.8px;top:379.2px;width:292.2px"></div>
<div class="t tx" style="transform-origin:0 50%;transform:scaleX(0.930);left:686.9px;top:383.5px;font-size:4.4px">530/30</div>
<svg class="abs" style="left:759.8px;top:383.0px" width="4.8" height="4.8" viewBox="0 0 4.8 4.8"><rect x="0.4" y="0.4" width="4" height="4" rx="0.7" fill="#fff" stroke="#8c8c8c" stroke-width="0.5"/></svg>
<svg class="abs" style="left:968.0px;top:383.1px" width="4" height="4" viewBox="0 0 4 4"><path d="M0.7 0.7L3.3 3.3M3.3 0.7L0.7 3.3" stroke="#222" stroke-width="1.05" fill="none"/></svg>
<div class="ln" style="left:683.8px;top:392.3px;width:292.2px"></div>
<div class="t tx" style="transform-origin:0 50%;transform:scaleX(0.930);left:686.9px;top:396.6px;font-size:4.4px">586/14</div>
<svg class="abs" style="left:759.8px;top:396.1px" width="4.8" height="4.8" viewBox="0 0 4.8 4.8"><rect x="0.4" y="0.4" width="4" height="4" rx="0.7" fill="#fff" stroke="#8c8c8c" stroke-width="0.5"/></svg>
<svg class="abs" style="left:968.0px;top:396.2px" width="4" height="4" viewBox="0 0 4 4"><path d="M0.7 0.7L3.3 3.3M3.3 0.7L0.7 3.3" stroke="#222" stroke-width="1.05" fill="none"/></svg>
<div class="ln" style="left:683.8px;top:405.4px;width:292.2px"></div>
<div class="t tx" style="transform-origin:0 50%;transform:scaleX(0.930);left:686.9px;top:409.7px;font-size:4.4px">730/44</div>
<svg class="abs" style="left:759.8px;top:409.2px" width="4.8" height="4.8" viewBox="0 0 4.8 4.8"><rect x="0.4" y="0.4" width="4" height="4" rx="0.7" fill="#fff" stroke="#8c8c8c" stroke-width="0.5"/></svg>
<svg class="abs" style="left:968.0px;top:409.3px" width="4" height="4" viewBox="0 0 4 4"><path d="M0.7 0.7L3.3 3.3M3.3 0.7L0.7 3.3" stroke="#222" stroke-width="1.05" fill="none"/></svg>
<svg class="abs" style="left:755px;top:430.8px" width="6" height="5" viewBox="0 0 6 5"><path d="M0.6 0.9L3 3.5 5.4.9" fill="none" stroke="#3b83d6" stroke-width="1.5"/></svg>
<div class="t tx" style="transform-origin:0 50%;transform:scaleX(0.988);left:761.7px;top:431.0px;font-size:5.4px;color:#3b7fd0"><span style="border-bottom:0.5px solid #3b7fd0;display:inline-block;line-height:0.98">Filter Coverage</span></div>
<div class="btn bg" style="left:804.2px;width:22.7px">Load</div>
<div class="btn bg" style="left:828.2px;width:30.5px"><svg width="5" height="5.5" viewBox="0 0 10 11" style="vertical-align:-0.6px;margin-right:0.7px"><circle cx="8" cy="2" r="1.9" fill="#222"/><circle cx="2" cy="5.5" r="1.9" fill="#222"/><circle cx="8" cy="9" r="1.9" fill="#222"/><path d="M8 2L2 5.5 8 9" stroke="#222" stroke-width="1.1" fill="none"/></svg>Share</div>
<div class="btn bg" style="left:860.3px;width:27.7px"><svg width="5" height="5.5" viewBox="0 0 10 11" style="vertical-align:-0.7px;margin-right:0.6px"><path d="M0.5 1.5a1 1 0 011-1h6l2 2v7a1 1 0 01-1 1h-7a1 1 0 01-1-1z" fill="#222"/><rect x="2.5" y="1.2" width="4.5" height="2.6" fill="#e9e9e9"/><circle cx="5" cy="7.2" r="1.5" fill="#e9e9e9"/></svg>Save</div>
<div class="btn bp" style="left:889.4px;width:39.9px">Print Report</div>
<div class="btn bp" style="left:930.3px;width:47.5px">Design a panel</div>
</body></html>
